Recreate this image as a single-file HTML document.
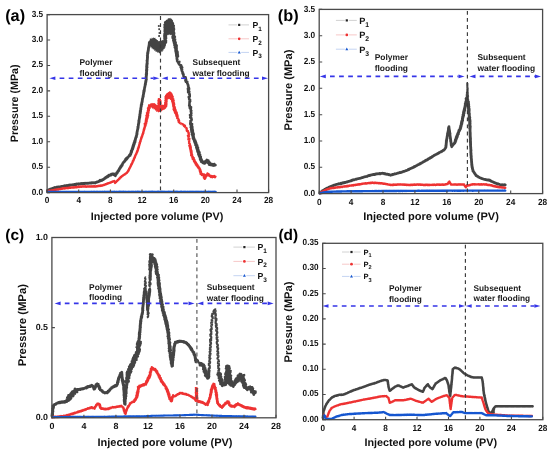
<!DOCTYPE html>
<html><head><meta charset="utf-8"><title>Pressure vs injected pore volume</title>
<style>html,body{margin:0;padding:0;background:#fff;}svg{display:block;}text{font-family:"Liberation Sans", Arial, sans-serif;font-weight:bold;text-rendering:geometricPrecision;}</style>
</head><body>
<svg width="550" height="451" viewBox="0 0 550 451">
<rect width="550" height="451" fill="#fff"/>
<g fill="none" stroke-linejoin="round" stroke-linecap="round">
<polyline points="47.4,190.7 47.8,190.0 48.6,190.4 48.9,189.6 49.7,189.8 50.0,189.1 50.8,189.3 51.2,188.7 51.9,188.9 52.3,188.2 53.0,188.4 53.5,187.8 54.1,187.9 54.7,187.4 55.4,187.9 55.9,187.3 56.6,187.7 57.1,186.9 57.8,187.4 58.3,186.8 59.0,187.1 59.5,186.7 60.2,187.0 60.7,186.5 61.4,186.7 62.0,186.2 62.6,186.4 63.2,186.0 63.8,186.3 64.4,185.7 65.1,186.2 65.6,185.6 66.3,186.0 66.8,185.4 67.5,185.8 68.0,185.3 68.7,185.7 69.2,184.9 69.9,185.5 70.4,184.8 71.1,185.2 71.7,184.7 72.3,185.0 72.9,184.6 73.6,184.9 74.1,184.3 74.8,184.8 75.3,184.2 76.0,184.7 76.5,183.9 77.2,184.3 77.7,183.9 78.4,184.3 78.9,183.7 79.6,184.2 80.2,183.5 80.8,183.8 81.4,183.3 82.0,183.9 82.6,183.3 83.2,183.6 83.8,183.2 84.5,183.7 85.0,183.1 85.7,183.5 86.2,183.1 86.9,183.4 87.5,183.1 88.1,183.5 88.7,183.0 89.3,183.3 89.9,182.8 90.5,183.2 91.1,182.7 91.7,183.1 92.3,182.6 92.9,183.0 93.5,182.6 94.1,182.9 94.7,182.5 95.3,183.0 95.8,182.3 96.5,182.5 96.9,181.8 97.7,182.0 98.1,181.5 98.8,181.7 99.2,180.9 99.9,181.1 100.2,180.2 101.0,180.7 101.4,180.0 102.2,180.4 102.5,179.5 103.4,179.7 103.6,179.0 104.4,178.9 104.6,178.1 105.5,178.2 105.7,177.3 106.6,177.5 106.8,176.6 107.8,176.9 107.9,175.9 108.7,176.1 109.0,175.1 109.8,175.5 110.2,174.8 111.1,175.2 111.3,174.1 112.2,174.5 112.5,173.8 112.9,174.1 114.0,173.9 113.9,174.9 114.9,174.8 115.4,175.9 115.1,174.9 116.0,174.8 116.0,173.9 116.7,173.7 116.5,172.7 117.5,172.7 117.4,171.8 118.2,171.6 118.0,170.7 119.0,170.6 118.8,169.7 119.5,169.4 119.3,168.6 120.1,168.4 120.1,167.6 120.9,167.4 120.5,166.4 121.6,166.3 121.4,165.4 122.3,165.3 122.0,164.4 122.7,164.1 122.7,163.3 123.4,163.1 123.4,162.3 124.2,162.0 124.2,161.2 125.1,161.1 125.0,160.3 125.8,160.1 125.6,159.1 126.8,159.2 126.5,158.1 127.5,158.2 127.5,157.2 128.3,157.1 128.5,156.4 129.2,156.2 129.2,155.2 130.3,155.4 130.0,154.4 130.9,154.1 130.5,153.3 131.4,152.9 130.9,152.1 131.8,151.7 131.2,150.8 132.1,150.5 131.8,149.7 132.7,149.3 132.1,148.5 133.1,148.1 132.5,147.3 133.5,146.9 132.9,146.1 133.8,145.7 133.3,144.9 134.3,144.5 133.7,143.7 134.6,143.3 134.0,142.5 135.1,142.1 134.5,141.2 135.4,140.8 135.0,140.1 135.6,139.6 135.3,138.8 135.9,138.3 135.6,137.6 136.4,137.2 136.0,136.3 136.7,135.9 136.4,135.2 137.1,134.6 136.6,134.0 137.2,133.4 136.8,132.7 137.3,132.2 137.0,131.6 137.5,131.0 137.2,130.4 137.8,129.8 137.5,129.2 138.1,128.6 137.7,128.0 138.3,127.4 137.8,126.7 138.4,126.2 138.2,125.6 138.6,125.0 138.2,124.4 138.8,123.8 138.5,123.2 139.1,122.6 138.6,121.9 139.2,121.4 138.7,120.7 139.3,120.2 139.0,119.5 139.5,119.0 139.2,118.3 139.8,117.8 139.3,117.1 140.0,116.6 139.6,115.9 140.1,115.3 139.7,114.7 140.2,114.1 139.9,113.4 140.5,112.9 140.0,112.2 140.7,111.7 140.1,111.0 140.7,110.5 140.5,109.8 141.0,109.3 140.6,108.6 141.1,108.0 140.8,107.4 141.4,106.8 141.0,106.2 141.5,105.6 141.1,105.0 141.9,104.5 141.4,103.8 141.9,103.3 141.7,102.6 142.3,102.1 142.0,101.4 142.5,100.9 142.1,100.2 142.6,99.7 142.2,99.0 142.8,98.5 142.6,97.9 143.1,97.3 142.8,96.7 143.4,96.2 143.0,95.5 143.5,95.0 143.3,94.3 143.8,93.8 143.4,93.1 144.0,92.6 143.6,91.9 144.3,91.4 143.7,90.7 144.5,90.2 144.1,89.6 144.6,89.0 144.4,88.4 144.7,87.8 144.5,87.2 145.1,86.7 144.8,86.0 145.3,85.4 145.0,84.8 145.6,84.3 145.2,83.6 145.8,83.0 145.4,82.3 146.0,81.8 145.6,81.1 146.3,80.7 146.0,80.0 146.5,79.4 145.9,78.8 146.4,78.2 146.0,77.6 146.5,77.0 146.0,76.4 146.6,75.8 146.1,75.1 146.7,74.6 146.1,73.9 146.8,73.4 146.3,72.7 146.8,72.2 146.4,71.5 146.9,70.9 146.3,70.3 147.0,69.7 146.4,69.1 146.9,68.5 146.5,67.9 147.2,67.3 146.5,66.7 147.1,66.1 146.6,65.5 147.2,64.9 146.7,64.3 147.4,63.7 146.9,63.1 147.3,62.5 146.9,61.8 147.4,61.3 146.9,60.6 147.5,60.1 147.2,59.4 147.6,58.9 147.2,58.2 147.7,57.6 147.3,57.0 147.7,56.4 147.2,55.8 147.7,55.2 147.4,54.6 147.8,54.0 147.4,53.4 148.1,52.9 147.6,52.2 148.3,51.7 147.9,51.0 148.5,50.5 148.2,49.8 148.6,49.2 148.3,48.6 148.8,48.0 148.4,47.4 149.1,46.8 148.7,46.2 149.3,45.7 148.9,45.0 149.4,44.4 149.1,43.8 149.7,43.3 149.2,42.5 149.5,42.1 150.8,41.6 149.8,43.7 151.6,42.6 151.0,44.3 152.3,43.5 152.0,45.0 153.5,44.0 153.0,45.7 154.2,45.0 153.8,46.6 155.4,45.3 155.3,47.0 156.7,45.7 156.4,47.7 157.8,46.5 158.0,48.5 158.7,47.0 159.3,48.3 159.6,46.9 161.1,48.1 160.4,45.9 161.8,47.0 161.6,45.5 162.8,46.3 162.4,45.1 164.2,45.6 162.8,43.8 164.7,44.5 163.9,43.1 165.4,43.0 163.9,42.3 166.0,41.9 164.4,41.1 166.0,40.6 164.6,39.9 165.6,39.4 164.5,38.6 166.1,38.1 164.5,37.4 166.0,36.9 164.4,36.2 165.9,35.7 164.4,35.0 165.9,34.4 164.6,33.7 166.0,33.1 164.9,32.5 166.3,31.9 164.7,31.2 166.2,30.6 164.7,30.0 166.3,29.4 164.9,28.7 166.0,28.1 164.6,27.5 166.4,26.9 164.7,26.2 166.6,25.6 164.6,24.8 166.7,24.7 165.3,23.7 167.0,23.5 165.2,22.4 167.4,22.4 166.9,21.0 166.6,22.4 168.2,21.5 168.5,23.1 167.3,21.7 169.6,22.3 168.5,20.9 169.8,20.9 168.7,19.6 169.4,19.8 170.7,19.8 169.8,21.2 171.7,20.8 170.4,22.1 172.1,22.2 171.1,23.2 172.9,23.3 171.7,24.3 172.9,24.6 171.6,25.7 173.8,25.9 171.6,26.7 173.3,27.1 172.1,27.9 173.9,28.3 172.2,29.1 174.0,29.5 172.6,30.3 173.7,30.8 172.7,31.5 173.7,32.0 172.5,32.7 174.2,33.2 172.6,33.9 174.0,34.4 173.0,35.2 174.2,35.7 172.6,36.4 174.9,36.9 172.6,37.7 174.3,38.2 173.4,38.9 175.1,39.4 173.2,40.1 174.9,40.3 173.6,41.6 175.2,41.6 174.0,42.8 175.7,42.8 174.3,43.8 175.7,44.2 174.4,45.1 176.6,45.3" stroke="#444444" stroke-width="2.6"/>
<polyline points="176.6,45.3 175.0,46.2" stroke="#444444" stroke-width="2.6" stroke-linecap="butt" stroke-dasharray="2.2 1.0"/>
<polyline points="175.0,46.2 176.5,46.6 174.8,47.5 176.6,47.8" stroke="#444444" stroke-width="2.6"/>
<polyline points="176.6,47.8 175.6,48.6" stroke="#444444" stroke-width="2.6" stroke-linecap="butt" stroke-dasharray="2.2 1.0"/>
<polyline points="175.6,48.6 176.5,49.0" stroke="#444444" stroke-width="2.6"/>
<polyline points="176.5,49.0 175.6,49.8" stroke="#444444" stroke-width="2.6" stroke-linecap="butt" stroke-dasharray="2.2 1.0"/>
<polyline points="175.6,49.8 176.6,50.2" stroke="#444444" stroke-width="2.6"/>
<polyline points="176.6,50.2 175.6,51.0" stroke="#444444" stroke-width="2.6" stroke-linecap="butt" stroke-dasharray="2.2 1.0"/>
<polyline points="175.6,51.0 177.3,51.4" stroke="#444444" stroke-width="2.6"/>
<polyline points="177.3,51.4 175.9,52.2" stroke="#444444" stroke-width="2.6" stroke-linecap="butt" stroke-dasharray="2.2 1.0"/>
<polyline points="175.9,52.2 177.5,52.6" stroke="#444444" stroke-width="2.6"/>
<polyline points="177.5,52.6 176.1,53.4" stroke="#444444" stroke-width="2.6" stroke-linecap="butt" stroke-dasharray="2.2 1.0"/>
<polyline points="176.1,53.4 177.4,53.8" stroke="#444444" stroke-width="2.6"/>
<polyline points="177.4,53.8 176.3,54.6" stroke="#444444" stroke-width="2.6" stroke-linecap="butt" stroke-dasharray="2.2 1.0"/>
<polyline points="176.3,54.6 177.7,55.0" stroke="#444444" stroke-width="2.6"/>
<polyline points="177.7,55.0 176.3,55.8" stroke="#444444" stroke-width="2.6" stroke-linecap="butt" stroke-dasharray="2.2 1.0"/>
<polyline points="176.3,55.8 178.0,56.2" stroke="#444444" stroke-width="2.6"/>
<polyline points="178.0,56.2 176.8,57.0 178.2,57.4 176.7,58.2 178.3,58.6 176.9,59.4 178.3,59.8 177.1,60.9 178.8,60.6 177.8,62.0 179.4,61.8 178.4,63.1 179.8,63.0 179.0,64.2 180.3,64.2 179.8,65.2 181.1,65.2 180.6,66.1 181.6,66.4 180.7,67.4 182.2,67.6 181.3,68.5 182.8,68.7 181.5,69.8 182.9,70.0 181.9,71.0 183.4,71.2 182.4,72.2 183.7,72.4 182.6,73.5 184.3,73.6 183.2,74.6 184.8,74.7 183.4,75.9 184.8,76.1 184.0,77.0 185.6,77.2 184.7,78.2 185.8,78.4 185.2,79.3 186.1,79.6 185.4,80.5 186.4,80.8 185.8,81.6 187.3,81.8 186.0,82.8 187.4,83.0 186.2,84.0 187.8,84.1 186.6,85.2 188.3,85.2 187.1,86.3 188.4,86.6 187.4,87.3 188.9,87.7 187.9,88.5 189.2,88.9 188.0,89.7 189.1,90.2 188.2,90.9 189.3,91.4 188.1,92.2 189.2,92.6 188.0,93.4 189.5,93.8 188.4,94.6 189.8,95.0 188.7,95.8 189.8,96.3 188.7,97.0 190.1,97.5 189.1,98.2 190.4,98.7 189.2,99.5 190.1,100.0 189.4,100.6 190.2,101.2 189.5,101.8 190.7,102.4 189.4,103.0 190.9,103.5 189.3,104.2 190.4,104.8 189.2,105.5 191.0,105.9 189.8,106.6 191.1,107.1 189.7,107.8 190.9,108.4 189.5,109.1 190.8,109.6 189.8,110.2 191.3,110.7 189.8,111.4 191.1,112.0 189.7,112.7 191.4,113.2 190.0,113.8 191.1,114.4 190.0,115.1 191.3,115.6 190.3,116.2 191.2,116.8 190.2,117.5 191.3,118.0 190.4,118.7 191.7,119.2 190.4,119.9 191.5,120.4 190.4,121.1 191.7,121.6 190.4,122.3 191.8,122.8 190.3,123.5 192.1,124.0" stroke="#444444" stroke-width="2.6" stroke-linecap="butt" stroke-dasharray="2.2 1.0"/>
<polyline points="192.1,124.0 190.5,124.7" stroke="#444444" stroke-width="2.6"/>
<polyline points="190.5,124.7 191.8,125.3 191.0,125.9 192.2,126.4" stroke="#444444" stroke-width="2.6" stroke-linecap="butt" stroke-dasharray="2.2 1.0"/>
<polyline points="192.2,126.4 190.7,127.2" stroke="#444444" stroke-width="2.6"/>
<polyline points="190.7,127.2 192.3,127.6" stroke="#444444" stroke-width="2.6" stroke-linecap="butt" stroke-dasharray="2.2 1.0"/>
<polyline points="192.3,127.6 191.2,128.4" stroke="#444444" stroke-width="2.6"/>
<polyline points="191.2,128.4 192.3,128.8" stroke="#444444" stroke-width="2.6" stroke-linecap="butt" stroke-dasharray="2.2 1.0"/>
<polyline points="192.3,128.8 191.2,129.6" stroke="#444444" stroke-width="2.6"/>
<polyline points="191.2,129.6 192.7,130.0" stroke="#444444" stroke-width="2.6" stroke-linecap="butt" stroke-dasharray="2.2 1.0"/>
<polyline points="192.7,130.0 191.5,130.8" stroke="#444444" stroke-width="2.6"/>
<polyline points="191.5,130.8 192.9,131.1" stroke="#444444" stroke-width="2.6" stroke-linecap="butt" stroke-dasharray="2.2 1.0"/>
<polyline points="192.9,131.1 191.6,132.0" stroke="#444444" stroke-width="2.6"/>
<polyline points="191.6,132.0 192.9,132.4" stroke="#444444" stroke-width="2.6" stroke-linecap="butt" stroke-dasharray="2.2 1.0"/>
<polyline points="192.9,132.4 192.1,133.1 193.5,133.5 191.9,134.4" stroke="#444444" stroke-width="2.6"/>
<polyline points="191.9,134.4 193.7,134.7" stroke="#444444" stroke-width="2.6" stroke-linecap="butt" stroke-dasharray="2.2 1.0"/>
<polyline points="193.7,134.7 192.7,135.5 193.4,135.9 192.7,136.7 193.8,137.0 192.9,138.0 194.1,138.2 193.4,139.2 194.5,139.4 194.1,140.3 195.3,140.5 194.3,141.5 195.7,141.7 194.8,142.7 196.1,142.9 195.3,143.8 196.4,144.1 195.5,145.1 197.2,145.2 196.3,146.2 197.2,146.5 196.3,147.5 198.0,147.6 196.7,148.6 198.0,148.9 197.2,149.7 198.4,150.0 197.3,151.0 198.8,151.2 197.8,152.1 199.5,152.3 198.3,153.3 199.5,153.6 198.4,154.5 200.1,154.7 198.9,155.7 200.1,155.9 199.5,156.8 200.8,156.9 199.9,157.9 200.8,158.2 200.1,159.1 201.5,159.2 200.5,160.2 201.8,160.4 201.1,161.6 202.3,161.3 202.2,162.3 203.4,161.9 203.1,163.1 203.5,162.9 204.8,163.5 204.5,161.9 205.9,162.3 205.7,161.1 206.9,161.1 206.8,159.7 207.2,160.2 208.3,160.5 207.5,161.5 209.1,161.7 207.9,162.8 209.8,162.8 209.0,164.6 210.1,163.5 210.4,165.0 211.4,163.9 211.9,165.1 212.8,164.1 213.3,165.6 214.2,164.0 214.7,165.4 215.5,165.0" stroke="#444444" stroke-width="2.6"/>
<polygon points="149.5,39.3 150.1,38.2 151.3,38.9 151.9,37.4 152.9,38.4 153.6,37.2 154.1,37.9 155.4,37.8 155.5,38.9 156.6,39.0 156.7,40.1 157.8,39.9 158.0,41.5 158.9,40.8 159.9,41.3 160.4,40.2 161.3,40.8 162.3,40.0 163.3,40.6 164.2,39.7 165.1,39.7 166.3,40.5 165.3,41.3 166.3,42.1 165.1,42.9 166.3,43.8 165.0,44.6 165.9,45.4 165.1,46.2 165.8,47.2 164.8,47.6 164.8,48.7 163.4,48.9 163.8,50.3 162.6,50.5 162.6,51.8 161.0,51.5 161.1,52.8 160.3,52.8 159.2,53.5 158.5,52.2 157.3,52.8 157.1,51.6 155.6,52.0 155.6,50.5 154.2,50.8 154.2,49.3 152.9,49.6 152.8,48.4 151.6,48.5 151.6,47.2 150.4,47.4 150.6,46.4 149.5,45.7 150.3,44.8 149.2,44.0 150.3,43.1 149.0,42.4 150.1,41.5 149.2,40.7 150.1,39.8 149.4,39.0" fill="#444444" stroke="none"/>
<polygon points="165.5,24.2 165.0,23.0 166.2,22.6 165.3,21.3 166.6,20.8 167.0,19.6 166.6,20.8 167.5,21.3 167.9,22.5 168.0,20.8 169.2,20.3 168.6,19.0 169.8,18.6 170.2,17.4 170.3,18.8 171.8,19.4 171.2,20.6 172.3,21.1 171.9,22.3 173.1,23.0 172.3,23.9 173.1,24.7 172.4,25.7 173.3,26.5 172.7,27.4 173.7,28.2 172.6,29.2 173.8,30.0 172.7,30.9 173.8,31.8 173.0,32.9 174.0,33.8 173.6,34.4 172.2,35.3 171.4,34.6 170.6,35.3 169.8,34.3 168.9,35.2 168.1,34.5 167.3,35.4 166.5,34.6 164.5,34.8 165.3,34.0 164.7,33.1 165.3,32.3 164.7,31.5 165.3,30.6 164.4,29.8 165.6,29.0 164.6,28.2 165.5,27.3 164.5,26.5 165.5,25.7 164.4,24.8 165.0,24.0" fill="#444444" stroke="none"/>
<rect x="158.3" y="28.3" width="1.8" height="1.8" fill="#444444" stroke="none"/>
<rect x="158.6" y="32.1" width="1.8" height="1.8" fill="#444444" stroke="none"/>
<rect x="158.2" y="35.1" width="1.8" height="1.8" fill="#444444" stroke="none"/>
<rect x="157.9" y="25.1" width="1.8" height="1.8" fill="#444444" stroke="none"/>
<polyline points="47.3,191.4 47.9,191.0 48.5,191.1 49.1,190.6 49.8,190.9 50.3,190.6 51.0,190.7 51.6,190.3 52.2,190.6 52.8,190.1 53.5,190.4 54.0,189.9 54.7,190.1 55.2,189.6 55.9,189.9 56.4,189.4 57.1,189.7 57.7,189.3 58.3,189.5 58.9,189.0 59.6,189.2 60.1,188.8 60.8,189.1 61.3,188.5 62.0,188.9 62.6,188.3 63.2,188.6 63.8,188.2 64.4,188.5 65.0,188.0 65.6,188.3 66.2,187.9 66.9,188.2 67.4,187.8 68.1,188.2 68.6,187.7 69.3,187.9 69.9,187.5 70.5,187.9 71.1,187.5 71.7,187.7 72.3,187.3 72.9,187.5 73.5,187.1 74.1,187.5 74.7,187.1 75.3,187.4 75.9,186.9 76.6,187.3 77.1,186.9 77.8,187.1 78.3,186.7 79.0,187.0 79.6,186.6 80.2,186.9 80.8,186.5 81.4,186.8 82.0,186.4 82.6,186.7 83.2,186.3 83.8,186.7 84.4,186.4 85.0,186.7 85.6,186.3 86.2,186.8 86.8,186.4 87.4,186.7 88.0,186.4 88.7,186.7 89.3,186.4 89.9,186.7 90.5,186.3 91.1,186.6 91.7,186.3 92.3,186.6 92.9,186.3 93.5,186.6 94.1,186.2 94.7,186.6 95.3,186.3 95.9,186.6 96.5,186.2 97.2,186.4 97.8,185.9 98.5,186.2 99.1,185.7 99.8,186.0 100.4,185.5 101.1,185.8 101.7,185.3 102.4,185.6 102.9,185.1 103.7,185.2 104.2,184.6 104.9,184.8 105.4,184.2 106.2,184.3 106.7,183.7 107.4,183.8 107.9,183.2 108.6,183.3 109.2,182.8 109.9,182.9 110.4,182.4 111.1,182.4 111.6,181.8 112.3,181.9 112.8,181.4 113.5,181.4 114.3,181.0 114.3,181.8 114.8,182.3 115.1,183.0 115.4,182.4 116.1,182.2 116.3,181.5 116.9,181.2 117.2,180.6 117.9,180.3 118.1,179.7 118.8,179.4 119.0,178.7 119.7,178.6 119.9,177.8 120.6,177.6 120.8,176.9 121.5,176.8 121.9,176.2 122.5,176.0 122.9,175.4 123.6,175.2 124.0,174.6 124.8,174.5 125.1,173.9 125.8,173.7 126.2,173.2 126.9,173.0 127.1,172.2 127.8,171.8 128.0,171.0 128.7,170.6 128.6,169.9 129.1,169.4 129.1,168.8 129.7,168.4 129.7,167.7 130.2,167.3 130.3,166.6 130.8,166.2 130.8,165.5 131.3,165.1 131.2,164.3 131.9,164.0 131.9,163.3 132.4,162.9 132.4,162.2 132.9,161.8 132.8,161.1 133.5,160.7 133.5,160.0 133.9,159.5 133.8,158.9 134.4,158.4 134.3,157.7 134.9,157.3 134.8,156.6 135.3,156.2 135.2,155.5 135.8,155.1 135.8,154.4 136.3,154.0 136.3,153.3 136.8,152.9 136.7,152.2 137.3,151.8 137.1,151.0 137.8,150.7 137.7,150.0 138.1,149.4 137.9,148.7 138.5,148.3 138.3,147.6 138.9,147.1 138.7,146.4 139.1,145.9 139.1,145.2 139.5,144.7 139.4,144.0 139.9,143.5 139.6,142.8 140.2,142.3 140.1,141.6 140.6,141.2 140.4,140.5 140.9,140.0 140.8,139.3 141.3,138.8 141.1,138.2 141.7,137.7 141.5,137.0 142.2,136.6 142.0,135.9 142.4,135.4 142.4,134.8 142.9,134.3 142.7,133.6 143.3,133.2 143.1,132.5 143.6,131.9 143.4,131.2 143.9,130.7 143.7,130.0 144.3,129.5 144.0,128.8 144.6,128.3 144.4,127.6 144.9,127.1 144.8,126.4 145.5,125.9 144.8,125.1 145.7,124.7 144.7,123.8 146.2,123.5 145.5,122.7 146.4,122.3 145.7,121.5 146.7,121.1 145.8,120.3 146.8,119.9 146.0,119.1 147.2,118.8 146.3,118.0 147.7,117.6 146.5,116.8 147.8,116.4 146.4,115.5 148.2,115.3 147.0,114.4 148.0,114.0 146.9,113.1 148.5,112.8 147.6,112.0 148.5,111.5 147.8,110.8 148.9,110.4 148.1,109.6 149.0,109.1 147.9,108.2 149.7,108.0 148.7,107.1 149.8,106.7 149.0,105.3 150.1,106.4 150.3,105.3 151.2,105.9 151.4,104.7 152.0,105.8 153.0,104.5 153.4,105.8 154.3,104.7 154.6,105.7 155.9,105.7 154.9,107.1 156.5,107.0 155.8,108.2 156.7,108.0 157.2,109.0 158.0,108.5 158.9,109.0 158.0,108.3 159.4,107.8 158.2,107.1 159.3,106.6 158.1,105.8 159.5,105.3 158.6,104.6 159.8,104.1 158.4,103.3 159.6,102.8 158.7,102.1 159.9,101.6 158.4,100.8 159.8,100.3 158.8,99.6 158.8,99.1 159.9,99.6 159.0,100.3 160.4,100.8 159.0,101.6 160.5,102.1 159.3,102.8 160.6,103.3 159.1,104.1 160.4,104.6 159.3,105.3 160.7,105.8 159.4,106.6 160.8,107.1 159.7,107.8 160.9,108.3 160.5,109.5 160.6,108.0 161.7,109.0 161.7,107.4 163.0,108.6 163.1,107.3 164.1,107.9 164.2,106.8 165.3,107.5 165.2,106.6 166.2,106.1 165.1,105.3 166.4,104.8 165.3,104.1 166.5,103.6 165.1,102.9 166.4,102.4 165.6,101.7 166.6,101.2 165.4,100.4 166.6,99.9 165.9,99.2 166.8,98.7 165.5,98.0 166.8,97.5 165.6,96.7 167.1,96.3 166.1,95.6 166.6,95.4 167.3,94.5 168.4,95.4 168.2,94.2 169.2,94.3 169.0,93.1 169.5,93.3 170.7,93.2 170.1,94.3 171.5,94.1 170.7,95.4 172.0,95.4 171.3,96.2 172.7,96.6 171.7,97.5 172.6,98.0 172.0,98.8 173.3,99.2 172.1,100.1 173.7,100.5 172.3,101.4 173.5,101.8 172.6,102.6 174.0,103.0 172.9,103.9 174.3,104.3 173.1,105.1 174.1,105.6 173.3,106.4 174.6,106.8 173.7,107.6 175.0,108.0 173.5,109.1 175.1,109.1 174.0,110.2 175.7,110.2 174.6,111.3 175.8,111.4 174.9,112.5 176.7,112.4" stroke="#ee3232" stroke-width="2.3"/>
<polyline points="176.7,112.4 175.7,113.5" stroke="#ee3232" stroke-width="2.2" stroke-linecap="butt" stroke-dasharray="2.0 0.8"/>
<polyline points="175.7,113.5 176.8,113.7" stroke="#ee3232" stroke-width="2.3"/>
<polyline points="176.8,113.7 176.3,114.5" stroke="#ee3232" stroke-width="2.2" stroke-linecap="butt" stroke-dasharray="2.0 0.8"/>
<polyline points="176.3,114.5 177.3,114.8" stroke="#ee3232" stroke-width="2.3"/>
<polyline points="177.3,114.8 176.4,115.8" stroke="#ee3232" stroke-width="2.2" stroke-linecap="butt" stroke-dasharray="2.0 0.8"/>
<polyline points="176.4,115.8 177.6,116.1" stroke="#ee3232" stroke-width="2.3"/>
<polyline points="177.6,116.1 177.0,116.9 178.0,117.2 177.1,118.1 178.2,118.4 177.7,119.2 178.8,119.6 178.2,120.4 179.2,120.7 178.5,121.8 179.7,121.5 179.5,122.8 180.5,122.7 180.6,123.6 181.5,123.7 181.7,124.6 182.8,124.1 182.7,125.5 183.9,124.9 183.9,126.1 185.0,125.7 184.8,126.8 185.9,126.9 185.6,127.7 186.5,127.9 186.1,128.8 186.9,129.1 186.5,129.9 187.4,130.2 186.9,131.1 188.1,131.2 187.4,132.0 188.7,132.5 187.9,133.2 188.9,133.7 187.7,134.5 188.9,135.0 187.8,135.7 189.0,136.2 188.4,136.9 189.0,137.5 188.4,138.2 189.5,138.7 188.3,139.5 189.3,140.0 188.7,140.7 189.4,141.2 188.9,141.9 189.7,142.4 189.0,143.2 189.8,143.6 189.1,144.4 190.1,144.9" stroke="#ee3232" stroke-width="2.2" stroke-linecap="butt" stroke-dasharray="2.0 0.8"/>
<polyline points="190.1,144.9 189.3,145.6" stroke="#ee3232" stroke-width="2.3"/>
<polyline points="189.3,145.6 190.5,146.0" stroke="#ee3232" stroke-width="2.2" stroke-linecap="butt" stroke-dasharray="2.0 0.8"/>
<polyline points="190.5,146.0 189.7,146.8" stroke="#ee3232" stroke-width="2.3"/>
<polyline points="189.7,146.8 190.8,147.2" stroke="#ee3232" stroke-width="2.2" stroke-linecap="butt" stroke-dasharray="2.0 0.8"/>
<polyline points="190.8,147.2 190.0,148.0" stroke="#ee3232" stroke-width="2.3"/>
<polyline points="190.0,148.0 190.8,148.5" stroke="#ee3232" stroke-width="2.2" stroke-linecap="butt" stroke-dasharray="2.0 0.8"/>
<polyline points="190.8,148.5 190.3,149.2 191.1,149.7 190.5,150.4 191.5,150.9 190.7,151.6 191.7,152.1 190.9,152.8 191.7,153.3 191.2,154.1 192.1,154.5 191.1,155.3 192.2,155.6 191.9,156.5 192.8,156.8 192.4,157.7 193.7,157.8 192.7,159.0 193.9,159.1 193.7,159.9 194.6,160.2 194.0,161.2 195.0,161.4 194.7,162.3 195.9,162.4 195.4,163.3 196.4,163.5 195.8,164.6 197.1,164.4 196.6,165.5 197.7,165.5 197.3,166.5 198.3,166.5 198.1,167.5 199.1,167.4 198.9,168.4 199.7,168.5 199.6,169.2 200.3,169.6 199.7,170.4 200.6,170.8 199.9,171.6 201.0,171.9 200.4,172.7 201.1,173.2 200.5,173.9 201.1,173.8 201.8,175.0 202.5,174.0 203.2,175.0 204.2,174.5 203.6,175.2 204.6,175.7 203.7,176.4 204.5,176.9 203.8,177.6 204.9,178.1 204.7,178.9 204.5,178.1 205.4,177.9 204.8,176.8 206.0,176.8 205.6,175.8 206.8,175.8 206.3,174.8 207.2,174.5 207.5,173.4 207.4,174.7 208.7,174.1 208.6,175.3 209.6,175.1 209.7,176.1 210.6,176.0 211.0,177.0 211.6,176.0 212.3,177.3 212.9,176.2 213.6,176.9 214.2,176.0 214.9,177.3 215.5,176.6" stroke="#ee3232" stroke-width="2.3"/>
<polygon points="149.6,104.2 150.2,103.4 151.3,103.8 152.0,102.7 152.9,103.7 154.1,103.0 154.8,103.6 155.8,103.9 155.8,104.9 156.7,105.2 157.2,106.2 157.4,105.1 158.5,104.9 159.2,103.5 159.9,104.8 160.9,104.5 161.9,105.2 162.6,104.4 163.6,104.9 164.4,103.8 165.1,104.0 166.0,104.8 165.2,105.7 165.8,106.5 165.2,107.3 165.9,108.2 165.3,108.5 164.8,109.7 163.6,109.2 163.2,110.2 162.2,110.3 162.0,111.4 160.8,111.1 160.5,112.5 159.5,111.7 158.4,112.4 157.6,111.5 156.2,112.0 156.3,110.6 155.0,110.6 155.0,109.3 153.7,109.5 153.4,108.3 152.2,108.8 151.9,107.6 150.5,107.7 150.9,106.5 149.8,105.9 150.4,104.7 149.5,104.0" fill="#ee3232" stroke="none"/>
<polygon points="166.5,93.7 167.3,92.7 168.7,92.6 169.0,91.5 169.5,91.3 170.8,91.4 170.5,92.6 171.8,92.9 171.2,93.9 172.3,94.4 171.6,95.5 172.5,96.1 172.1,97.0 172.9,97.9 172.1,98.7 172.8,99.6 172.0,100.4 172.8,101.3 172.2,102.1 172.2,103.2 172.3,102.0 171.3,101.5 171.4,100.3 170.1,100.0 170.0,98.8 169.0,99.4 168.0,98.8 167.0,99.5 166.6,99.0 165.8,98.1 166.8,97.2 165.8,96.2 166.8,95.4 166.0,94.4 166.4,93.5" fill="#ee3232" stroke="none"/>
<polyline points="47.3,192.0 47.9,191.8 48.5,192.0 49.1,191.8 49.7,192.0 50.3,191.8 50.9,192.0 51.5,191.8 52.1,192.0 52.8,191.8 53.4,192.0 54.0,191.8 54.6,192.0 55.2,191.8 55.8,192.0 56.4,191.8 57.0,191.9 57.6,191.8 58.2,191.9 58.8,191.8 59.4,192.0 60.0,191.8 60.6,191.9 61.2,191.8 61.8,192.0 62.4,191.8 63.0,191.9 63.7,191.8 64.3,191.9 64.9,191.8 65.5,191.9 66.1,191.8 66.7,192.0 67.3,191.8 67.9,191.9 68.5,191.8 69.1,191.9 69.7,191.8 70.3,191.9 70.9,191.8 71.5,191.9 72.1,191.8 72.7,191.9 73.3,191.8 74.0,191.9 74.6,191.8 75.2,191.9 75.8,191.8 76.4,191.9 77.0,191.8 77.6,191.9 78.2,191.8 78.8,191.9 79.4,191.8 80.0,191.9 80.6,191.8 81.2,191.9 81.8,191.8 82.4,191.9 83.0,191.8 83.6,191.9 84.3,191.7 84.9,191.9 85.5,191.8 86.1,191.9 86.7,191.8 87.3,191.9 87.9,191.8 88.5,191.9 89.1,191.8 89.7,191.9 90.3,191.8 90.9,191.9 91.5,191.7 92.1,191.9 92.7,191.8 93.3,191.9 93.9,191.7 94.5,191.8 95.2,191.8 95.8,191.9 96.4,191.7 97.0,191.9 97.6,191.7 98.2,191.9 98.8,191.8 99.4,191.9 100.0,191.7 100.6,191.9 101.2,191.8 101.8,191.9 102.4,191.7 103.0,191.9 103.6,191.8 104.2,191.8 104.8,191.7 105.4,191.9 106.0,191.7 106.6,191.9 107.2,191.7 107.8,191.9 108.4,191.7 109.0,191.9 109.6,191.7 110.2,191.9 110.8,191.7 111.4,191.9 112.0,191.7 112.6,191.9 113.2,191.7 113.8,191.9 114.4,191.7 115.0,191.8 115.6,191.8 116.2,191.9 116.8,191.7 117.4,191.9 118.0,191.8 118.6,191.8 119.2,191.7 119.8,191.8 120.4,191.7 121.0,191.9 121.6,191.7 122.2,191.9 122.8,191.7 123.4,191.8 124.0,191.7 124.6,191.9 125.2,191.7 125.8,191.9 126.4,191.8 127.0,191.8 127.6,191.8 128.2,191.9 128.8,191.7 129.4,191.8 130.0,191.8 130.6,191.9 131.2,191.7 131.8,191.9 132.4,191.7 133.0,191.9 133.6,191.7 134.2,191.9 134.8,191.8 135.4,191.8 136.0,191.7 136.6,191.9 137.2,191.7 137.8,191.8 138.4,191.7 139.0,191.9 139.6,191.7 140.2,191.9 140.8,191.8 141.4,191.8 142.0,191.8 142.6,191.8 143.2,191.8 143.8,191.9 144.4,191.8 145.0,191.9 145.6,191.7 146.2,191.9 146.8,191.7 147.4,191.9 148.0,191.8 148.6,191.8 149.2,191.7 149.8,191.9 150.4,191.7 151.0,191.9 151.6,191.7 152.2,191.8 152.8,191.7 153.4,191.9 154.0,191.7 154.6,191.9 155.2,191.8 155.8,191.8 156.4,191.8 157.0,191.9 157.6,191.7 158.2,191.8 158.8,191.7 159.4,191.9 160.0,191.7 160.6,191.9 161.2,191.7 161.8,191.8 162.4,191.7 163.0,191.9 163.6,191.7 164.2,191.9 164.8,191.7 165.4,191.9 166.1,191.8 166.7,191.9 167.3,191.8 167.9,191.8 168.5,191.7 169.1,191.9 169.7,191.7 170.3,191.9 170.9,191.7 171.5,191.9 172.1,191.7 172.7,191.9 173.3,191.7 173.9,191.9 174.5,191.7 175.1,191.9 175.7,191.7 176.3,191.8 177.0,191.7 177.6,191.8 178.2,191.8 178.8,191.8 179.4,191.8 180.0,191.9 180.6,191.7 181.2,191.8 181.8,191.7 182.4,191.9 183.0,191.8 183.6,191.8 184.2,191.7 184.8,191.9 185.4,191.7 186.0,191.9 186.6,191.8 187.2,191.9 187.8,191.7 188.5,191.9 189.1,191.7 189.7,191.9 190.3,191.7 190.9,191.9 191.5,191.7 192.1,191.9 192.7,191.7 193.3,191.9 193.9,191.7 194.5,191.9 195.1,191.7 195.7,191.9 196.3,191.7 196.9,191.9 197.5,191.7 198.1,191.9 198.7,191.7 199.4,191.9 200.0,191.7 200.6,191.9 201.2,191.7 201.8,191.9 202.4,191.8 203.0,191.9 203.6,191.7 204.2,191.9 204.8,191.7 205.4,191.9 206.0,191.7 206.6,191.9 207.2,191.8 207.8,191.8 208.4,191.7 209.0,191.9 209.6,191.7 210.3,191.9 210.9,191.7 211.5,191.9 212.1,191.7 212.7,191.9 213.3,191.7 213.9,191.9 214.5,191.7 215.1,191.8 215.7,191.8" stroke="#1556d0" stroke-width="2.2"/>
</g>
<line x1="160.5" y1="16.1" x2="160.5" y2="192.6" stroke="#3a3a3a" stroke-width="1.15" stroke-dasharray="3.8 3.3"/>
<g stroke="#3535e8" stroke-width="1.6" stroke-dasharray="4.7 4.4">
<line x1="59.6" y1="78.3" x2="153.3" y2="78.3"/>
<line x1="172.0" y1="78.3" x2="262.0" y2="78.3"/>
</g>
<polygon points="49.4,78.3 55.4,76.5 55.4,80.1" fill="#3535e8"/>
<polygon points="159.3,78.3 153.3,76.5 153.3,80.1" fill="#3535e8"/>
<polygon points="161.8,78.3 167.8,76.5 167.8,80.1" fill="#3535e8"/>
<polygon points="268.0,78.3 262.0,76.5 262.0,80.1" fill="#3535e8"/>
<rect x="47.1" y="14.6" width="221.5" height="178.0" fill="none" stroke="#4a4a4a" stroke-width="1.3"/>
<path d="M47.1,192.6v-3M78.7,192.6v-3M110.4,192.6v-3M142.0,192.6v-3M173.7,192.6v-3M205.3,192.6v-3M237.0,192.6v-3M268.6,192.6v-3M47.1,192.6h3M47.1,167.2h3M47.1,141.7h3M47.1,116.3h3M47.1,90.9h3M47.1,65.5h3M47.1,40.0h3M47.1,14.6h3" stroke="#4a4a4a" stroke-width="1.1" fill="none"/>
<g fill="#111"><text transform="translate(47.10,202.90) scale(0.930,1)" font-size="8.90" text-anchor="middle">0</text><text transform="translate(78.74,202.90) scale(0.930,1)" font-size="8.90" text-anchor="middle">4</text><text transform="translate(110.39,202.90) scale(0.930,1)" font-size="8.90" text-anchor="middle">8</text><text transform="translate(142.03,202.90) scale(0.930,1)" font-size="8.90" text-anchor="middle">12</text><text transform="translate(173.67,202.90) scale(0.930,1)" font-size="8.90" text-anchor="middle">16</text><text transform="translate(205.31,202.90) scale(0.930,1)" font-size="8.90" text-anchor="middle">20</text><text transform="translate(236.96,202.90) scale(0.930,1)" font-size="8.90" text-anchor="middle">24</text><text transform="translate(268.60,202.90) scale(0.930,1)" font-size="8.90" text-anchor="middle">28</text><text transform="translate(43.20,194.59) scale(0.930,1)" font-size="8.90" text-anchor="end">0.0</text><text transform="translate(43.20,169.16) scale(0.930,1)" font-size="8.90" text-anchor="end">0.5</text><text transform="translate(43.20,143.73) scale(0.930,1)" font-size="8.90" text-anchor="end">1.0</text><text transform="translate(43.20,118.30) scale(0.930,1)" font-size="8.90" text-anchor="end">1.5</text><text transform="translate(43.20,92.87) scale(0.930,1)" font-size="8.90" text-anchor="end">2.0</text><text transform="translate(43.20,67.44) scale(0.930,1)" font-size="8.90" text-anchor="end">2.5</text><text transform="translate(43.20,42.01) scale(0.930,1)" font-size="8.90" text-anchor="end">3.0</text><text transform="translate(43.20,16.59) scale(0.930,1)" font-size="8.90" text-anchor="end">3.5</text></g>
<text x="157.0" y="219.6" font-size="10.80" text-anchor="middle" fill="#111">Injected pore volume (PV)</text>
<text transform="translate(17.8,103.3) rotate(-90)" font-size="10.70" text-anchor="middle" fill="#111">Pressure (MPa)</text>
<text x="5.2" y="21.0" font-size="16.30" text-anchor="start" fill="#000">(a)</text>
<text x="79.5" y="65.3" font-size="8.35" text-anchor="start" fill="#1a1a1a">Polymer</text>
<text x="79.5" y="75.6" font-size="8.35" text-anchor="start" fill="#1a1a1a">flooding</text>
<text x="192.6" y="65.2" font-size="8.35" text-anchor="start" fill="#1a1a1a">Subsequent</text>
<text x="192.6" y="75.5" font-size="8.35" text-anchor="start" fill="#1a1a1a">water flooding</text>
<path d="M228.5,24.9H237.2M241.2,24.9H249.0" stroke="#d2d2d2" stroke-width="1"/>
<rect x="238.1" y="23.8" width="2.2" height="2.2" fill="#222"/>
<text x="252.4" y="28.0" font-size="8.60" fill="#111">P<tspan font-size="6.36" dy="2.84">1</tspan></text>
<path d="M228.5,38.8H237.2M241.2,38.8H249.0" stroke="#f7c8c8" stroke-width="1"/>
<circle cx="239.2" cy="38.8" r="1.4" fill="#ee3232"/>
<text x="252.4" y="41.9" font-size="8.60" fill="#111">P<tspan font-size="6.36" dy="2.84">2</tspan></text>
<path d="M228.5,52.4H237.2M241.2,52.4H249.0" stroke="#c4d4f2" stroke-width="1"/>
<polygon points="239.2,50.8 237.7,53.5 240.7,53.5" fill="#1556d0"/>
<text x="252.4" y="55.5" font-size="8.60" fill="#111">P<tspan font-size="6.36" dy="2.84">3</tspan></text>
<g fill="none" stroke-linejoin="round" stroke-linecap="round">
<polyline points="319.9,192.8 320.3,192.2 321.0,192.2 321.4,191.5 322.1,191.4 322.4,190.7 323.2,190.6 323.6,190.0 324.3,190.0 324.6,189.3 325.3,189.2 325.8,188.7 326.4,188.7 326.8,188.1 327.5,188.2 328.0,187.7 328.7,187.7 329.0,187.0 329.7,187.1 330.1,186.5 330.7,186.5 331.3,186.1 332.0,186.1 332.5,185.7 333.2,185.7 333.7,185.2 334.4,185.2 334.9,184.8 335.6,184.9 336.1,184.3 336.8,184.5 337.4,184.0 338.1,184.2 338.6,183.7 339.3,184.0 339.8,183.5 340.5,183.8 341.0,183.1 341.7,183.5 342.2,182.9 342.9,183.1 343.5,182.7 344.1,182.8 344.7,182.4 345.4,182.6 345.9,182.1 346.6,182.2 347.1,181.7 347.8,181.9 348.3,181.3 349.0,181.4 349.5,181.0 350.2,181.1 350.7,180.6 351.4,180.8 351.9,180.2 352.6,180.3 353.1,179.8 353.9,180.0 354.4,179.5 355.0,179.5 355.6,179.2 356.3,179.4 356.8,178.8 357.5,178.9 358.0,178.6 358.7,178.6 359.2,178.3 359.9,178.4 360.4,178.0 361.1,178.1 361.6,177.6 362.3,177.7 362.8,177.3 363.5,177.4 364.0,176.9 364.7,177.0 365.3,176.6 365.9,176.7 366.5,176.3 367.2,176.4 367.6,175.8 368.3,176.0 368.8,175.4 369.5,175.6 370.1,175.1 370.7,175.3 371.3,174.8 371.9,175.0 372.5,174.5 373.2,174.7 373.7,174.4 374.4,174.6 375.0,174.1 375.6,174.3 376.2,173.9 376.8,174.0 377.4,173.7 378.1,173.9 378.7,173.5 379.4,173.8 380.0,173.4 380.6,173.8 381.2,173.3 381.9,173.5 382.5,173.1 383.1,173.5 383.8,173.4 384.4,173.9 385.2,173.6 385.8,174.1 386.5,174.0 387.0,174.4 387.8,174.1 388.3,174.6 389.0,174.4 389.4,175.0 390.1,174.8 390.7,175.3 391.3,174.8 391.9,174.9 392.5,174.4 393.2,174.6 393.7,174.1 394.4,174.2 394.9,173.7 395.6,173.9 396.2,173.5 396.8,173.6 397.3,173.1 398.0,173.2 398.6,172.9 399.2,173.0 399.7,172.4 400.4,172.7 401.0,172.2 401.7,172.4 402.2,171.9 402.9,171.8 403.4,171.4 404.1,171.5 404.6,171.0 405.3,171.0 405.8,170.5 406.6,170.6 407.1,170.1 407.8,170.1 408.2,169.4 409.0,169.6 409.4,168.9 410.1,169.0 410.6,168.4 411.3,168.4 411.8,167.9 412.5,167.8 412.9,167.3 413.7,167.4 414.0,166.7 414.8,166.7 415.2,166.1 415.9,166.1 416.3,165.5 417.0,165.5 417.4,164.9 418.1,164.9 418.6,164.3 419.3,164.4 419.7,163.7 420.4,163.8 420.8,163.1 421.5,163.2 421.8,162.5 422.5,162.5 422.9,161.9 423.6,162.0 423.9,161.3 424.6,161.3 425.0,160.7 425.7,160.8 426.0,160.1 426.7,160.2 427.1,159.6 427.8,159.6 428.1,158.9 428.8,158.9 429.1,158.3 429.9,158.4 430.2,157.6 430.9,157.7 431.3,157.1 432.0,157.1 432.3,156.4 433.0,156.4 433.3,155.8 434.0,155.7 434.3,155.1 435.0,155.1 435.4,154.5 436.2,154.5 436.6,154.0 437.3,153.9 437.7,153.3 438.5,153.3 438.9,152.6 439.6,152.6 440.1,152.1 440.8,152.0 441.2,151.4 441.9,151.4 442.3,150.8 443.0,150.8 443.3,150.1 444.1,150.1 444.3,149.5 444.9,149.1 445.0,148.4 445.6,148.1 445.6,147.5 446.1,146.9 445.7,146.2 446.2,145.6 445.9,145.0 446.3,144.4 446.1,143.7 446.4,143.1 446.2,142.5 446.6,141.9 446.2,141.2 446.7,140.6 446.4,140.0 446.8,139.4 446.7,138.8 447.1,138.2 446.9,137.5 447.2,137.0 447.1,136.3 447.5,135.7 447.3,135.1 447.7,134.5 447.4,133.8 448.0,133.3 447.7,132.6 448.1,132.0 448.0,131.4 448.4,130.8 448.2,130.2 448.6,129.6 448.3,128.9 448.7,128.4 448.5,127.7 448.9,127.1 449.0,126.5 448.8,127.1 449.1,127.7 448.9,128.3 449.3,128.9 449.2,129.5 449.5,130.1 449.3,130.7 449.7,131.2 449.4,131.9 449.9,132.4 449.5,133.1 450.1,133.6 449.7,134.3 450.1,134.8 449.9,135.5 450.2,136.0 450.1,136.6 450.4,137.2 450.2,137.9 450.6,138.4 450.4,139.0 450.7,139.6 450.5,140.2 450.9,140.8 450.6,141.4 451.1,142.0 450.9,142.7 451.3,143.3 451.0,144.0 451.4,144.7 451.2,145.4 451.7,146.0 451.7,146.8 451.9,146.1 452.5,145.8 452.6,145.1 453.3,144.8 453.4,144.2 454.1,143.9 454.1,143.2 454.9,142.9 454.8,142.2 455.5,141.8 455.1,141.0 455.9,140.7 455.3,139.8 456.3,139.5 455.8,138.7 456.6,138.4 456.1,137.5 457.2,137.3 456.5,136.4 457.5,136.1 457.0,135.3 457.9,135.0 457.4,134.1 458.5,133.9 458.0,133.0 458.7,132.6 458.5,131.8 459.3,131.4 458.8,130.5 459.8,130.2 459.5,129.4 460.4,129.1 460.0,128.2 460.8,127.9 460.4,127.0 461.2,126.6 460.6,125.8 461.4,125.3 461.1,124.6 461.8,124.1 461.2,123.3 462.1,122.8 461.4,122.0 462.4,121.6 461.8,120.8 462.7,120.4 462.2,119.6 462.7,119.1 462.3,118.3 463.0,117.8 462.5,117.1 463.4,116.6 462.8,115.9 463.7,115.4 463.0,114.6 463.8,114.2 463.4,113.4 464.2,113.0 463.4,112.2 464.3,111.7 463.7,111.0 464.8,110.5 464.1,109.8 464.9,109.3 464.4,108.6 465.1,108.1 464.6,107.3 465.4,106.8 465.0,106.1 465.8,105.6 465.1,104.9 465.8,104.4 465.2,103.6 466.1,103.1 465.6,102.4 466.4,101.9" stroke="#444444" stroke-width="2.7"/>
<polyline points="466.4,101.9 466.0,101.2" stroke="#444444" stroke-width="1.5" stroke-linecap="butt" stroke-dasharray="100.0 0.0"/>
<polyline points="466.0,101.2 466.6,100.7" stroke="#444444" stroke-width="2.7"/>
<polyline points="466.6,100.7 466.1,100.0" stroke="#444444" stroke-width="1.5" stroke-linecap="butt" stroke-dasharray="100.0 0.0"/>
<polyline points="466.1,100.0 466.9,99.4" stroke="#444444" stroke-width="2.7"/>
<polyline points="466.9,99.4 466.0,98.7" stroke="#444444" stroke-width="1.5" stroke-linecap="butt" stroke-dasharray="100.0 0.0"/>
<polyline points="466.0,98.7 466.8,98.1" stroke="#444444" stroke-width="2.7"/>
<polyline points="466.8,98.1 466.3,97.5 466.9,96.9 466.4,96.2 467.2,95.7 466.3,95.0 467.2,94.4 466.6,93.7 467.2,93.1 466.6,92.5 467.5,91.9 466.9,91.2 467.6,90.7 467.0,90.0 467.5,89.4 467.0,88.7 467.7,88.1 467.0,87.4 467.6,86.8 466.9,86.2 467.5,85.6 466.9,84.9 467.6,84.3 467.0,83.6 467.1,83.0 467.7,83.6 467.1,84.2 467.8,84.8 467.2,85.4 467.8,86.0 467.2,86.6 467.8,87.2 467.3,87.8 468.0,88.4 467.2,89.0 468.0,89.6 467.2,90.2 468.0,90.8 467.2,91.4 468.0,92.0 467.3,92.6 468.2,93.2 467.3,93.8 468.1,94.4 467.5,95.0 468.3,95.6 467.6,96.2 468.4,96.8 467.5,97.5 468.2,98.1 467.8,98.7 468.5,99.3 467.8,99.9 468.4,100.5 467.7,101.2 468.5,101.7" stroke="#444444" stroke-width="1.5" stroke-linecap="butt" stroke-dasharray="100.0 0.0"/>
<polyline points="468.5,101.7 467.8,102.4" stroke="#444444" stroke-width="2.7"/>
<polyline points="467.8,102.4 468.5,103.0" stroke="#444444" stroke-width="1.5" stroke-linecap="butt" stroke-dasharray="100.0 0.0"/>
<polyline points="468.5,103.0 468.0,103.6" stroke="#444444" stroke-width="2.7"/>
<polyline points="468.0,103.6 468.8,104.2" stroke="#444444" stroke-width="1.5" stroke-linecap="butt" stroke-dasharray="100.0 0.0"/>
<polyline points="468.8,104.2 468.3,104.8" stroke="#444444" stroke-width="2.7"/>
<polyline points="468.3,104.8 468.7,105.4" stroke="#444444" stroke-width="1.5" stroke-linecap="butt" stroke-dasharray="100.0 0.0"/>
<polyline points="468.7,105.4 468.1,106.0" stroke="#444444" stroke-width="2.7"/>
<polyline points="468.1,106.0 469.0,106.6" stroke="#444444" stroke-width="1.5" stroke-linecap="butt" stroke-dasharray="100.0 0.0"/>
<polyline points="469.0,106.6 468.1,107.2" stroke="#444444" stroke-width="2.7"/>
<polyline points="468.1,107.2 468.9,107.8" stroke="#444444" stroke-width="1.5" stroke-linecap="butt" stroke-dasharray="100.0 0.0"/>
<polyline points="468.9,107.8 468.4,108.4" stroke="#444444" stroke-width="2.7"/>
<polyline points="468.4,108.4 469.2,109.0" stroke="#444444" stroke-width="1.5" stroke-linecap="butt" stroke-dasharray="100.0 0.0"/>
<polyline points="469.2,109.0 468.5,109.6" stroke="#444444" stroke-width="2.7"/>
<polyline points="468.5,109.6 469.3,110.2" stroke="#444444" stroke-width="1.5" stroke-linecap="butt" stroke-dasharray="100.0 0.0"/>
<polyline points="469.3,110.2 468.7,110.8 469.2,111.4 468.8,112.0 469.2,112.6 468.7,113.3 469.5,113.8 468.8,114.5 469.5,115.1 469.1,115.8 469.6,116.4 469.0,117.0 469.9,117.6 469.0,118.3 469.8,118.9 469.4,119.5 470.1,120.1 469.4,120.8 470.2,121.3 469.5,122.0 470.1,122.6 469.5,123.2 470.2,123.8 469.5,124.5 470.1,125.1 469.5,125.7 470.4,126.3 469.7,127.0 470.3,127.6 469.6,128.2 470.2,128.8 469.9,129.4 470.2,130.0 469.9,130.7 470.2,131.3 469.9,131.9 470.3,132.5 469.9,133.1 470.4,133.8 470.0,134.4 470.4,135.0 470.0,135.6 470.4,136.2 470.0,136.8 470.5,137.4 470.2,138.0 470.6,138.6 470.2,139.2 470.6,139.8 470.2,140.4 470.6,141.0 470.2,141.6 470.7,142.2 470.3,142.8 470.7,143.4 470.4,144.0 470.7,144.6 470.4,145.2 470.7,145.8 470.5,146.4 470.8,147.0 470.6,147.6 470.9,148.2 470.6,148.8 471.0,149.4 470.7,150.0 471.1,150.6 470.7,151.2 471.0,151.8 470.7,152.4 471.1,153.0 470.8,153.7 471.2,154.2 470.8,154.9 471.3,155.5 471.0,156.1 471.4,156.7 471.0,157.4 471.4,158.0 471.2,158.6 471.6,159.2 471.3,159.8 471.6,160.4 471.4,161.1 471.7,161.7 471.5,162.3 471.8,162.9 471.6,163.6 472.0,164.2 471.6,164.8 472.1,165.4 471.8,166.1 472.3,166.6 472.0,167.3 472.6,167.9 472.3,168.6 472.7,169.1 472.6,169.8 473.1,170.3 472.9,171.1 473.6,171.4 473.7,172.2 474.3,172.6 474.5,173.3 475.1,173.7 475.2,174.4 475.8,174.8 476.0,175.6 476.7,175.6 477.1,176.2 477.8,176.3 478.2,176.9 478.9,177.0 479.3,177.6 480.0,177.6 480.5,178.1 481.2,178.0 481.7,178.6 482.4,178.6 482.9,179.0 483.6,179.0 484.2,179.4 484.8,179.3 485.4,179.7 486.1,179.5 486.6,180.0 487.3,179.8 487.9,180.2 488.6,179.9 489.2,180.3 489.9,180.1 490.3,180.8 491.1,180.8 491.5,181.5 492.3,181.5 492.8,182.0 493.6,182.0 494.0,182.6 494.8,182.5 495.3,183.2 496.0,183.0 496.5,183.6 497.2,183.6 497.8,184.1 498.5,183.9 499.0,184.4 499.7,184.4 500.2,184.9 500.9,184.8 501.5,185.1 502.2,184.7 502.8,185.1 503.4,184.8 504.0,185.1 504.7,184.7 505.3,184.9" stroke="#444444" stroke-width="2.7"/>
<polyline points="319.9,193.3 320.3,192.7 320.9,192.6 321.3,192.0 322.1,192.0 322.5,191.5 323.2,191.4 323.6,190.8 324.3,190.8 324.7,190.2 325.4,190.2 325.9,189.7 326.6,189.8 327.0,189.2 327.8,189.4 328.2,188.8 329.0,189.0 329.5,188.5 330.2,188.6 330.7,188.0 331.3,188.3 331.9,187.9 332.5,188.2 333.1,187.7 333.8,188.1 334.3,187.6 335.0,187.9 335.5,187.4 336.2,187.7 336.7,187.3 337.4,187.5 337.9,187.1 338.6,187.4 339.2,187.0 339.8,187.4 340.4,186.9 341.0,187.1 341.6,186.7 342.2,187.0 342.8,186.6 343.4,186.7 344.0,186.4 344.7,186.6 345.2,186.2 345.9,186.5 346.5,186.0 347.1,186.3 347.7,185.8 348.3,186.2 348.9,185.7 349.5,185.9 350.1,185.5 350.8,185.7 351.3,185.3 352.0,185.6 352.5,185.2 353.2,185.5 353.8,185.0 354.4,185.2 355.0,184.8 355.6,185.0 356.2,184.6 356.9,184.9 357.4,184.4 358.1,184.7 358.6,184.2 359.3,184.5 359.8,184.1 360.5,184.3 361.1,183.9 361.7,184.1 362.3,183.7 362.9,183.8 363.5,183.5 364.1,183.7 364.7,183.4 365.3,183.6 365.9,183.1 366.5,183.5 367.1,183.1 367.7,183.4 368.3,183.0 368.9,183.2 369.5,182.8 370.1,183.2 370.7,182.7 371.3,183.0 371.9,182.6 372.5,182.9 373.1,182.6 373.7,183.0 374.3,182.6 374.9,183.0 375.5,182.7 376.1,183.1 376.8,182.8 377.3,183.2 378.0,182.8 378.6,183.3 379.2,182.9 379.8,183.3 380.4,183.1 381.0,183.5 381.6,183.2 382.2,183.5 382.8,183.3 383.4,183.8 384.0,183.6 384.6,183.9 385.3,183.7 385.8,184.2 386.5,184.0 387.0,184.4 387.7,184.2 388.2,184.7 388.9,184.5 389.5,184.8 390.1,184.7 390.7,185.1 391.3,184.8 391.9,185.0 392.5,184.6 393.1,185.0 393.7,184.5 394.3,184.8 394.9,184.6 395.6,184.9 396.2,184.6 396.8,184.8 397.4,184.4 398.0,184.7 398.6,184.3 399.2,184.7 399.8,184.3 400.4,184.7 401.0,184.4 401.6,184.7 402.2,184.5 402.8,184.8 403.4,184.5 404.0,184.9 404.7,184.5 405.3,184.8 405.9,184.6 406.5,185.0 407.1,184.7 407.7,185.0 408.3,184.8 408.9,185.1 409.5,184.8 410.1,185.1 410.7,184.6 411.3,185.0 411.9,184.7 412.5,185.0 413.1,184.6 413.8,184.9 414.4,184.5 415.0,184.9 415.6,184.6 416.2,184.8 416.8,184.4 417.4,184.7 418.0,184.4 418.6,184.8 419.2,184.5 419.8,184.8 420.4,184.4 421.0,184.8 421.6,184.6 422.2,184.8 422.8,184.6 423.4,185.0 424.0,184.6 424.6,185.0 425.2,184.6 425.8,185.0 426.4,184.7 427.0,185.0 427.6,184.6 428.2,185.1 428.8,184.7 429.4,185.1 430.0,184.8 430.6,185.0 431.2,184.8 431.8,185.0 432.4,184.7 433.0,185.0 433.6,184.6 434.2,184.9 434.8,184.6 435.4,185.0 436.0,184.6 436.6,184.9 437.2,184.5 437.8,184.8 438.4,184.5 439.0,184.9 439.6,184.5 440.2,184.9 440.8,184.6 441.4,184.8 442.0,184.5 442.6,184.8 443.2,184.4 443.8,184.9 444.4,184.5 445.0,184.8 445.6,184.2 446.3,184.4 446.8,183.9 447.7,184.1 447.7,183.4 448.4,183.2 448.4,182.4 449.1,182.2 449.4,181.5 449.5,182.3 450.1,182.7 450.2,183.4 450.9,183.9 451.0,184.7 451.6,184.5 452.2,184.7 452.8,184.5 453.4,184.7 454.0,184.4 454.6,184.7 455.2,184.4 455.8,184.7 456.4,184.4 457.0,184.8 457.6,184.4 458.2,184.7 458.8,184.3 459.4,184.7 460.0,184.4 460.7,184.6 461.3,184.3 462.0,184.7 462.7,184.4 463.3,184.6 464.1,184.4 464.2,185.1 464.7,185.6 464.9,186.2 465.5,186.6 465.8,187.4 466.0,186.6 466.7,186.2 467.0,185.3 467.9,185.6 468.7,185.2 469.4,185.3 469.9,184.9 470.6,185.1 471.1,184.5 471.8,184.7 472.4,184.2 473.0,184.5 473.6,184.2 474.3,184.6 474.9,184.2 475.5,184.5 476.1,184.3 476.7,184.5 477.4,184.3 478.0,184.5 478.6,184.2 479.2,184.6 479.8,184.3 480.5,184.6 481.1,184.2 481.7,184.6 482.3,184.3 482.9,184.6 483.6,184.2 484.2,184.5 484.8,184.3 485.4,184.7 486.1,184.3 486.6,184.8 487.3,184.6 487.9,185.0 488.5,184.8 489.1,185.2 489.8,184.9 490.4,185.4 491.1,185.1 491.6,185.6 492.3,185.4 492.8,186.0 493.5,185.8 494.1,186.3 494.8,186.1 495.3,186.6 496.0,186.4 496.5,186.9 497.2,186.7 497.8,187.1 498.5,186.8 499.1,187.3 499.7,186.9 500.3,187.4 501.0,187.2 501.5,187.5 502.2,187.3 502.8,187.7 503.4,187.5 504.0,187.8 504.7,187.6 505.3,187.8" stroke="#ee3232" stroke-width="2.3"/>
<polyline points="319.8,193.3 320.4,193.0 321.0,193.0 321.6,192.8 322.2,192.8 322.8,192.5 323.4,192.5 324.0,192.3 324.6,192.3 325.2,192.1 325.8,192.2 326.4,192.0 327.1,192.1 327.7,191.9 328.3,192.0 328.9,191.7 329.5,191.8 330.1,191.7 330.7,191.8 331.3,191.7 331.9,191.8 332.5,191.6 333.2,191.7 333.8,191.6 334.4,191.7 335.0,191.5 335.6,191.7 336.2,191.5 336.8,191.6 337.4,191.4 338.0,191.6 338.6,191.5 339.2,191.6 339.8,191.4 340.4,191.5 341.0,191.4 341.7,191.5 342.3,191.3 342.9,191.4 343.5,191.3 344.1,191.4 344.7,191.3 345.3,191.3 345.9,191.3 346.5,191.3 347.1,191.2 347.7,191.4 348.3,191.2 348.9,191.3 349.5,191.2 350.1,191.3 350.7,191.2 351.3,191.3 351.9,191.2 352.5,191.3 353.1,191.2 353.7,191.3 354.3,191.2 354.9,191.3 355.5,191.2 356.1,191.3 356.7,191.1 357.3,191.3 357.9,191.2 358.5,191.3 359.1,191.1 359.7,191.3 360.3,191.2 360.9,191.3 361.5,191.2 362.1,191.3 362.7,191.1 363.3,191.2 363.9,191.1 364.5,191.2 365.1,191.1 365.7,191.2 366.3,191.1 366.9,191.2 367.5,191.1 368.1,191.2 368.7,191.1 369.3,191.2 369.9,191.1 370.5,191.2 371.1,191.1 371.7,191.2 372.3,191.0 372.9,191.2 373.5,191.1 374.1,191.2 374.7,191.0 375.3,191.1 375.9,191.0 376.5,191.1 377.1,191.0 377.7,191.2 378.3,191.0 378.9,191.1 379.5,191.0 380.1,191.2 380.7,191.0 381.4,191.1 381.9,191.0 382.6,191.1 383.2,190.9 383.8,191.1 384.4,191.0 385.0,191.1 385.6,190.9 386.2,191.1 386.8,190.9 387.4,191.1 388.0,191.0 388.6,191.1 389.2,190.9 389.8,191.1 390.4,190.9 391.0,191.0 391.6,190.9 392.2,191.0 392.8,190.9 393.4,191.1 394.0,190.9 394.6,191.1 395.2,190.9 395.8,191.0 396.4,190.9 397.0,191.0 397.6,190.8 398.2,191.0 398.8,190.9 399.4,191.0 400.0,190.9 400.6,191.0 401.2,190.8 401.8,191.0 402.4,190.9 403.0,191.0 403.6,190.8 404.2,191.0 404.8,190.8 405.4,191.0 406.0,190.8 406.6,191.0 407.2,190.8 407.8,190.9 408.4,190.8 409.0,190.9 409.6,190.8 410.2,190.9 410.8,190.8 411.4,190.9 412.0,190.8 412.6,190.9 413.2,190.8 413.8,190.9 414.4,190.8 415.0,190.9 415.6,190.8 416.2,190.9 416.8,190.8 417.4,190.9 418.0,190.7 418.6,190.9 419.2,190.7 419.8,190.8 420.4,190.8 421.0,190.8 421.6,190.7 422.2,190.8 422.8,190.7 423.4,190.8 424.0,190.7 424.6,190.8 425.2,190.7 425.8,190.8 426.5,190.7 427.1,190.9 427.7,190.7 428.3,190.8 428.9,190.7 429.5,190.9 430.1,190.7 430.7,190.8 431.3,190.7 431.9,190.8 432.5,190.7 433.1,190.8 433.7,190.7 434.3,190.8 434.9,190.7 435.5,190.8 436.1,190.7 436.7,190.8 437.3,190.7 437.9,190.8 438.5,190.7 439.1,190.8 439.7,190.7 440.3,190.8 440.9,190.6 441.5,190.8 442.2,190.6 442.8,190.8 443.4,190.6 444.0,190.8 444.6,190.6 445.2,190.8 445.8,190.6 446.4,190.8 447.0,190.6 447.6,190.8 448.2,190.6 448.8,190.7 449.4,190.6 450.0,190.7 450.6,190.6 451.2,190.7 451.8,190.7 452.4,190.8 453.0,190.6 453.6,190.7 454.2,190.6 454.8,190.8 455.4,190.6 456.0,190.7 456.6,190.6 457.2,190.8 457.8,190.6 458.4,190.8 459.0,190.6 459.6,190.8 460.2,190.6 460.8,190.8 461.4,190.6 462.0,190.7 462.6,190.6 463.2,190.8 463.8,190.6 464.4,190.7 465.0,190.6 465.6,190.7 466.2,190.6 466.8,190.7 467.4,190.6 468.0,190.7 468.6,190.6 469.2,190.7 469.8,190.6 470.4,190.7 471.0,190.6 471.6,190.7 472.2,190.6 472.8,190.8 473.4,190.6 474.0,190.7 474.6,190.6 475.2,190.7 475.8,190.6 476.4,190.7 477.0,190.6 477.7,190.7 478.3,190.6 478.9,190.7 479.5,190.6 480.1,190.7 480.7,190.6 481.3,190.7 481.9,190.6 482.5,190.7 483.1,190.6 483.7,190.7 484.3,190.5 484.9,190.7 485.5,190.6 486.1,190.7 486.7,190.6 487.3,190.7 487.9,190.5 488.5,190.7 489.1,190.6 489.7,190.7 490.3,190.6 490.9,190.7 491.5,190.6 492.1,190.7 492.7,190.6 493.3,190.7 493.9,190.6 494.5,190.7 495.1,190.6 495.7,190.7 496.3,190.6 496.9,190.7 497.5,190.5 498.1,190.7 498.7,190.6 499.3,190.7 499.9,190.6 500.5,190.7 501.1,190.6 501.7,190.7 502.3,190.5 502.9,190.7 503.5,190.6 504.1,190.6 504.7,190.5 505.3,190.6" stroke="#1556d0" stroke-width="2.3"/>
</g>
<line x1="467.4" y1="10.9" x2="467.4" y2="193.6" stroke="#3a3a3a" stroke-width="1.15" stroke-dasharray="3.8 3.3"/>
<g stroke="#3535e8" stroke-width="1.6" stroke-dasharray="4.7 4.4">
<line x1="330.0" y1="76.4" x2="458.5" y2="76.4"/>
<line x1="479.7" y1="76.4" x2="535.0" y2="76.4"/>
</g>
<polygon points="319.8,76.4 325.8,74.6 325.8,78.2" fill="#3535e8"/>
<polygon points="464.5,76.4 458.5,74.6 458.5,78.2" fill="#3535e8"/>
<polygon points="469.5,76.4 475.5,74.6 475.5,78.2" fill="#3535e8"/>
<polygon points="541.0,76.4 535.0,74.6 535.0,78.2" fill="#3535e8"/>
<rect x="319.2" y="9.4" width="223.4" height="184.2" fill="none" stroke="#4a4a4a" stroke-width="1.3"/>
<path d="M319.2,193.6v-3M351.1,193.6v-3M383.0,193.6v-3M414.9,193.6v-3M446.9,193.6v-3M478.8,193.6v-3M510.7,193.6v-3M542.6,193.6v-3M319.2,193.6h3M319.2,167.3h3M319.2,141.0h3M319.2,114.7h3M319.2,88.3h3M319.2,62.0h3M319.2,35.7h3M319.2,9.4h3" stroke="#4a4a4a" stroke-width="1.1" fill="none"/>
<g fill="#111"><text transform="translate(319.20,204.80) scale(0.930,1)" font-size="8.90" text-anchor="middle">0</text><text transform="translate(351.11,204.80) scale(0.930,1)" font-size="8.90" text-anchor="middle">4</text><text transform="translate(383.03,204.80) scale(0.930,1)" font-size="8.90" text-anchor="middle">8</text><text transform="translate(414.94,204.80) scale(0.930,1)" font-size="8.90" text-anchor="middle">12</text><text transform="translate(446.86,204.80) scale(0.930,1)" font-size="8.90" text-anchor="middle">16</text><text transform="translate(478.77,204.80) scale(0.930,1)" font-size="8.90" text-anchor="middle">20</text><text transform="translate(510.69,204.80) scale(0.930,1)" font-size="8.90" text-anchor="middle">24</text><text transform="translate(542.60,204.80) scale(0.930,1)" font-size="8.90" text-anchor="middle">28</text><text transform="translate(315.20,195.79) scale(0.930,1)" font-size="8.90" text-anchor="end">0.0</text><text transform="translate(315.20,169.47) scale(0.930,1)" font-size="8.90" text-anchor="end">0.5</text><text transform="translate(315.20,143.16) scale(0.930,1)" font-size="8.90" text-anchor="end">1.0</text><text transform="translate(315.20,116.84) scale(0.930,1)" font-size="8.90" text-anchor="end">1.5</text><text transform="translate(315.20,90.53) scale(0.930,1)" font-size="8.90" text-anchor="end">2.0</text><text transform="translate(315.20,64.21) scale(0.930,1)" font-size="8.90" text-anchor="end">2.5</text><text transform="translate(315.20,37.90) scale(0.930,1)" font-size="8.90" text-anchor="end">3.0</text><text transform="translate(315.20,11.59) scale(0.930,1)" font-size="8.90" text-anchor="end">3.5</text></g>
<text x="431.0" y="220.4" font-size="11.05" text-anchor="middle" fill="#111">Injected pore volume (PV)</text>
<text transform="translate(291.6,90.0) rotate(-90)" font-size="11.10" text-anchor="middle" fill="#111">Pressure (MPa)</text>
<text x="277.8" y="21.0" font-size="16.30" text-anchor="start" fill="#000">(b)</text>
<text x="374.7" y="60.4" font-size="8.45" text-anchor="start" fill="#1a1a1a">Polymer</text>
<text x="374.7" y="71.2" font-size="8.45" text-anchor="start" fill="#1a1a1a">flooding</text>
<text x="477.4" y="60.0" font-size="8.45" text-anchor="start" fill="#1a1a1a">Subsequent</text>
<text x="477.4" y="71.2" font-size="8.45" text-anchor="start" fill="#1a1a1a">water flooding</text>
<path d="M335.9,20.4H344.8M348.8,20.4H356.8" stroke="#d2d2d2" stroke-width="1"/>
<rect x="345.7" y="19.3" width="2.2" height="2.2" fill="#222"/>
<text x="359.2" y="23.7" font-size="9.20" fill="#111">P<tspan font-size="6.81" dy="3.04">1</tspan></text>
<path d="M335.9,34.9H344.8M348.8,34.9H356.8" stroke="#f7c8c8" stroke-width="1"/>
<circle cx="346.8" cy="34.9" r="1.4" fill="#ee3232"/>
<text x="359.2" y="38.2" font-size="9.20" fill="#111">P<tspan font-size="6.81" dy="3.04">2</tspan></text>
<path d="M335.9,49.2H344.8M348.8,49.2H356.8" stroke="#c4d4f2" stroke-width="1"/>
<polygon points="346.8,47.6 345.3,50.3 348.3,50.3" fill="#1556d0"/>
<text x="359.2" y="52.5" font-size="9.20" fill="#111">P<tspan font-size="6.81" dy="3.04">3</tspan></text>
<g fill="none" stroke-linejoin="round" stroke-linecap="round">
<polyline points="52.5,416.5 51.7,415.8 52.8,415.3 51.9,414.6 52.8,414.1 52.0,413.4 52.8,412.9 52.2,412.2 53.1,411.7 52.2,410.9 53.0,410.4 52.5,409.7 53.1,409.2 52.4,408.5 53.5,408.0 52.9,407.3 53.8,406.8 52.7,406.0 53.6,405.9 53.6,404.8 54.6,405.0 54.9,404.2 55.8,404.4 56.0,403.5 56.8,403.6 57.3,402.8 58.0,403.2 58.5,402.4 59.3,403.0 59.7,402.0 60.6,402.8 61.1,401.7 61.8,402.5 62.3,401.6 63.0,402.4 63.5,401.6 64.2,402.5 64.7,401.2 65.4,402.3 65.9,401.2 66.9,401.7 66.6,400.8 68.3,400.8 66.7,399.3 69.2,400.2 67.2,397.6 70.2,399.3 68.0,396.6 71.1,398.4 68.4,395.2 70.9,396.5 69.9,394.8 72.7,396.3 70.5,393.6 73.5,395.6 71.5,392.6 73.5,393.8 72.2,391.5 75.1,393.6 73.5,391.0 75.4,392.0 74.4,390.0 77.2,392.0 74.9,388.7 76.7,390.5 77.2,389.2 77.8,389.7 78.4,389.2 79.1,389.8 79.6,389.0 80.3,389.6 80.8,388.7 81.5,389.3 82.0,388.5 82.7,389.1 83.1,388.4 84.0,388.8 84.4,388.0 85.2,388.3 85.6,387.5 86.6,388.1 86.8,386.8 87.7,387.4 88.0,386.3 88.9,386.9 89.4,386.1 90.2,386.8 90.6,385.6 91.5,386.1 91.9,385.1 92.4,385.6 93.2,386.0 92.7,386.8 93.7,387.1 93.3,387.9 94.1,388.3 93.8,389.0 93.9,389.3 94.8,389.0 94.4,388.1 95.4,387.8 95.0,386.9 96.1,386.7 95.5,385.7 96.5,385.4 95.8,384.4 96.6,384.3 97.2,383.6 97.3,384.0 98.5,384.2 98.0,385.1 98.8,385.5 98.3,386.4 99.6,386.6 99.0,387.6 100.1,387.9 99.2,388.9 100.3,389.0 100.2,390.0 101.1,390.0 101.3,390.7 102.3,390.6 102.2,391.7 103.2,391.5 103.2,392.5 103.9,392.2 104.6,393.1 105.2,392.4 105.9,393.0 106.5,392.2 107.4,392.9 107.4,392.0 108.3,392.1 108.0,391.0 109.1,391.2 109.0,390.2 110.0,390.3 109.8,389.3 110.6,389.2 110.6,388.4 111.5,388.4 111.5,387.5 112.3,387.7 112.6,386.8 113.5,387.2 113.7,386.3 114.6,386.6 114.7,385.5 115.8,386.3 115.9,385.0 116.9,385.6 116.8,384.8 117.6,384.4 117.3,383.6 117.8,383.2 117.2,382.4 118.4,382.0 117.5,381.2 118.4,380.8 117.9,380.0 118.9,379.6 118.2,378.8 119.1,378.4 118.5,377.5 119.5,377.3 119.1,376.5 120.2,376.3 119.5,375.3 120.7,375.2 120.0,374.2 121.2,374.1 120.4,373.1 121.5,372.9 121.9,372.1 120.9,372.9 122.1,373.3 121.3,374.1 122.2,374.6 121.3,375.3 122.3,375.8 121.5,376.5 122.4,377.0 121.7,377.7 122.6,378.2 122.1,379.0 122.9,379.5 122.0,380.3 123.2,380.7 122.3,381.5 123.2,382.0 122.5,382.8 123.5,383.3 122.9,384.0 123.9,384.5 123.2,385.3 124.1,385.8 123.5,386.5 124.2,387.1 123.4,387.7 124.2,388.3 123.4,388.9 124.3,389.5 123.5,390.1 124.6,390.7 123.7,391.3 124.3,391.9 123.8,392.5 124.6,393.1 123.9,393.7 124.5,394.3 123.7,394.9 124.7,395.5 123.9,396.1 124.9,396.7 124.0,397.3 124.9,397.9 124.2,398.5 124.9,399.1 124.0,399.7 125.1,400.3 124.0,400.9 125.0,401.5 124.2,402.1 125.0,402.7 124.5,403.3 125.2,403.9 125.3,404.5 124.3,403.8 125.4,403.3 124.4,402.6 125.3,402.1 124.8,401.4 125.5,400.9 124.9,400.2 125.5,399.6 124.9,399.0 125.8,398.4 125.0,397.7 125.8,397.2 125.0,396.5 126.2,396.0 125.3,395.3 125.9,394.7 125.5,394.1 126.4,393.5 125.6,392.8 126.4,392.3 125.6,391.6 126.4,391.1 125.6,390.4 126.4,389.8 125.9,389.2 126.6,388.6 126.1,387.9 126.9,387.4 126.1,386.7 126.8,386.1 126.3,385.5 127.1,385.0 126.3,384.2 127.2,383.8 126.4,383.0 127.5,382.6 125.1,381.6 128.7,381.5 126.3,380.6 128.6,380.3 126.5,379.4 128.2,379.0 126.3,378.1 129.3,377.9 126.8,377.0 128.9,376.7 126.8,375.7 129.6,375.5 126.8,374.5 129.7,374.3 126.7,372.9 129.7,373.3 127.2,371.6 130.8,372.4 128.5,370.8 131.3,371.2 128.2,369.2 130.8,369.5 129.1,368.1 131.9,368.7 129.1,366.6 132.1,367.4 130.0,365.7 133.2,366.6 130.3,364.5 133.9,365.5 131.2,363.6 134.0,364.3 132.1,362.6 134.7,363.2 131.8,361.2 135.1,362.0 132.5,360.1 135.1,360.6 132.8,358.8 136.5,359.8 133.2,357.6 136.5,358.4 133.9,356.6 136.8,357.1 134.3,355.3 137.9,356.3 135.5,354.4 137.6,354.6 136.0,353.2 138.7,353.7 136.0,352.3 139.1,352.0 137.1,351.1 139.7,350.8 137.2,349.9 139.8,349.5 137.2,348.6 139.3,348.2 136.6,347.2 139.2,346.9 137.5,346.1 139.9,345.7 137.0,344.7 140.4,344.5 137.1,343.4 140.7,343.2 137.5,342.3 140.8,341.9 138.1,341.1 139.3,340.6 138.7,339.9 139.4,339.4 138.7,338.7 139.7,338.2 138.9,337.5 139.9,336.9 139.0,336.2 139.8,335.7 139.1,335.0 140.1,334.5 139.0,333.8 139.9,333.2 139.2,332.6 140.3,332.1 139.4,331.4 140.3,330.8 139.6,330.1 140.4,329.6 139.7,328.9 140.4,328.4 139.9,327.7 140.7,327.2 139.9,326.5 140.6,325.9 139.9,325.2 140.7,324.7 140.1,324.0 140.9,323.5 140.3,322.8 140.9,322.3 140.3,321.6 141.2,321.1 140.4,320.3 141.2,319.9 140.7,319.1 141.4,318.6 141.0,317.9 141.9,317.5 141.1,316.7 142.0,316.3 141.5,315.5 142.1,315.0 141.7,314.3 142.6,313.9 142.0,313.2 142.8,312.7 142.3,312.0 142.8,311.4 142.4,310.8 143.1,310.2 142.4,309.6 143.0,309.0 142.4,308.4 143.1,307.8 142.5,307.2 143.2,306.6 142.7,306.0 143.3,305.4 142.9,304.8 143.5,304.2 142.9,303.6 143.6,303.0 143.0,302.4 143.7,301.8 143.2,301.2 143.7,300.6 143.2,300.0 144.0,299.4 143.3,298.8 144.1,298.2 143.4,297.6 144.2,297.1 143.7,296.3 144.4,295.8" stroke="#444444" stroke-width="2.5"/>
<polyline points="144.4,295.8 143.7,295.1" stroke="#444444" stroke-width="1.7" stroke-linecap="butt" stroke-dasharray="1.8 1.0"/>
<polyline points="143.7,295.1 144.7,294.6" stroke="#444444" stroke-width="2.5"/>
<polyline points="144.7,294.6 144.0,293.8" stroke="#444444" stroke-width="1.7" stroke-linecap="butt" stroke-dasharray="1.8 1.0"/>
<polyline points="144.0,293.8 144.7,293.3" stroke="#444444" stroke-width="2.5"/>
<polyline points="144.7,293.3 144.0,292.5" stroke="#444444" stroke-width="1.7" stroke-linecap="butt" stroke-dasharray="1.8 1.0"/>
<polyline points="144.0,292.5 144.8,292.0" stroke="#444444" stroke-width="2.5"/>
<polyline points="144.8,292.0 144.1,291.4" stroke="#444444" stroke-width="1.7" stroke-linecap="butt" stroke-dasharray="1.8 1.0"/>
<polyline points="144.1,291.4 145.1,290.8" stroke="#444444" stroke-width="2.5"/>
<polyline points="145.1,290.8 144.5,290.2 145.0,289.6 144.3,289.0" stroke="#444444" stroke-width="1.7" stroke-linecap="butt" stroke-dasharray="1.8 1.0"/>
<polyline points="144.3,289.0 145.0,288.4" stroke="#444444" stroke-width="2.5"/>
<polyline points="145.0,288.4 144.6,287.8 145.3,287.2 144.5,286.6 145.3,286.0 144.7,285.4 145.2,284.8 144.6,284.2 145.2,283.6 144.8,283.0 145.4,282.4 144.6,281.8 145.6,281.2 144.9,280.6 145.5,280.0 144.8,279.4 145.6,278.8 144.8,278.2 145.5,277.6 145.5,277.0 145.1,277.6 145.5,278.2 145.0,278.8 145.7,279.4 145.1,280.1 145.7,280.6 145.2,281.3 145.7,281.9 145.1,282.5 146.1,283.1 145.1,283.7 145.8,284.3 145.4,284.9 146.1,285.5 145.4,286.1 146.1,286.7 145.5,287.4 146.1,287.9 145.5,288.6 146.1,289.2 145.5,289.8 146.1,290.4 145.5,291.1 146.4,291.6" stroke="#444444" stroke-width="1.7" stroke-linecap="butt" stroke-dasharray="1.8 1.0"/>
<polyline points="146.4,291.6 145.9,292.3" stroke="#444444" stroke-width="2.5"/>
<polyline points="145.9,292.3 146.5,292.9" stroke="#444444" stroke-width="1.7" stroke-linecap="butt" stroke-dasharray="1.8 1.0"/>
<polyline points="146.5,292.9 145.9,293.6" stroke="#444444" stroke-width="2.5"/>
<polyline points="145.9,293.6 146.7,294.1" stroke="#444444" stroke-width="1.7" stroke-linecap="butt" stroke-dasharray="1.8 1.0"/>
<polyline points="146.7,294.1 146.3,294.9 146.8,295.4 146.4,296.1 147.0,296.7 146.4,297.4 147.4,298.0" stroke="#444444" stroke-width="2.5"/>
<polyline points="147.4,298.0 146.6,298.6" stroke="#444444" stroke-width="1.7" stroke-linecap="butt" stroke-dasharray="1.8 1.0"/>
<polyline points="146.6,298.6 147.5,299.2" stroke="#444444" stroke-width="2.5"/>
<polyline points="147.5,299.2 146.8,299.9" stroke="#444444" stroke-width="1.7" stroke-linecap="butt" stroke-dasharray="1.8 1.0"/>
<polyline points="146.8,299.9 147.5,300.4" stroke="#444444" stroke-width="2.5"/>
<polyline points="147.5,300.4 146.9,301.1" stroke="#444444" stroke-width="1.7" stroke-linecap="butt" stroke-dasharray="1.8 1.0"/>
<polyline points="146.9,301.1 147.6,301.7" stroke="#444444" stroke-width="2.5"/>
<polyline points="147.6,301.7 146.8,302.3" stroke="#444444" stroke-width="1.7" stroke-linecap="butt" stroke-dasharray="1.8 1.0"/>
<polyline points="146.8,302.3 147.8,302.9" stroke="#444444" stroke-width="2.5"/>
<polyline points="147.8,302.9 147.2,303.6" stroke="#444444" stroke-width="1.7" stroke-linecap="butt" stroke-dasharray="1.8 1.0"/>
<polyline points="147.2,303.6 147.9,304.1" stroke="#444444" stroke-width="2.5"/>
<polyline points="147.9,304.1 147.1,304.8" stroke="#444444" stroke-width="1.7" stroke-linecap="butt" stroke-dasharray="1.8 1.0"/>
<polyline points="147.1,304.8 148.0,305.4" stroke="#444444" stroke-width="2.5"/>
<polyline points="148.0,305.4 147.2,306.0" stroke="#444444" stroke-width="1.7" stroke-linecap="butt" stroke-dasharray="1.8 1.0"/>
<polyline points="147.2,306.0 147.9,306.6" stroke="#444444" stroke-width="2.5"/>
<polyline points="147.9,306.6 147.2,307.2" stroke="#444444" stroke-width="1.7" stroke-linecap="butt" stroke-dasharray="1.8 1.0"/>
<polyline points="147.2,307.2 148.1,307.8" stroke="#444444" stroke-width="2.5"/>
<polyline points="148.1,307.8 147.3,308.4" stroke="#444444" stroke-width="1.7" stroke-linecap="butt" stroke-dasharray="1.8 1.0"/>
<polyline points="147.3,308.4 148.1,309.0" stroke="#444444" stroke-width="2.5"/>
<polyline points="148.1,309.0 147.3,309.6" stroke="#444444" stroke-width="1.7" stroke-linecap="butt" stroke-dasharray="1.8 1.0"/>
<polyline points="147.3,309.6 148.0,310.2" stroke="#444444" stroke-width="2.5"/>
<polyline points="148.0,310.2 147.3,310.8 147.9,311.4 147.5,312.0 148.1,312.6 147.6,313.2 148.1,313.8 147.4,314.4 148.2,315.0 147.6,315.6 148.3,316.2 147.5,316.8 148.2,317.4 148.3,318.0 147.6,317.4 148.3,316.8 147.6,316.2 148.5,315.6 147.6,315.0 148.4,314.4 147.6,313.8 148.5,313.2" stroke="#444444" stroke-width="1.7" stroke-linecap="butt" stroke-dasharray="1.8 1.0"/>
<polyline points="148.5,313.2 147.9,312.6" stroke="#444444" stroke-width="2.5"/>
<polyline points="147.9,312.6 148.4,312.0 147.7,311.4 148.3,310.8 147.8,310.2 148.3,309.6 147.9,309.0 148.4,308.4 147.9,307.8 148.4,307.2 147.7,306.6 148.6,306.0" stroke="#444444" stroke-width="1.7" stroke-linecap="butt" stroke-dasharray="1.8 1.0"/>
<polyline points="148.6,306.0 147.9,305.4" stroke="#444444" stroke-width="2.5"/>
<polyline points="147.9,305.4 148.8,304.8" stroke="#444444" stroke-width="1.7" stroke-linecap="butt" stroke-dasharray="1.8 1.0"/>
<polyline points="148.8,304.8 148.0,304.2" stroke="#444444" stroke-width="2.5"/>
<polyline points="148.0,304.2 148.9,303.6" stroke="#444444" stroke-width="1.7" stroke-linecap="butt" stroke-dasharray="1.8 1.0"/>
<polyline points="148.9,303.6 148.0,303.0" stroke="#444444" stroke-width="2.5"/>
<polyline points="148.0,303.0 148.9,302.4" stroke="#444444" stroke-width="1.7" stroke-linecap="butt" stroke-dasharray="1.8 1.0"/>
<polyline points="148.9,302.4 148.3,301.8" stroke="#444444" stroke-width="2.5"/>
<polyline points="148.3,301.8 148.9,301.2" stroke="#444444" stroke-width="1.7" stroke-linecap="butt" stroke-dasharray="1.8 1.0"/>
<polyline points="148.9,301.2 148.1,300.6" stroke="#444444" stroke-width="2.5"/>
<polyline points="148.1,300.6 148.8,300.0" stroke="#444444" stroke-width="1.7" stroke-linecap="butt" stroke-dasharray="1.8 1.0"/>
<polyline points="148.8,300.0 148.2,299.4" stroke="#444444" stroke-width="2.5"/>
<polyline points="148.2,299.4 148.9,298.8" stroke="#444444" stroke-width="1.7" stroke-linecap="butt" stroke-dasharray="1.8 1.0"/>
<polyline points="148.9,298.8 148.4,298.2" stroke="#444444" stroke-width="2.5"/>
<polyline points="148.4,298.2 149.0,297.6" stroke="#444444" stroke-width="1.7" stroke-linecap="butt" stroke-dasharray="1.8 1.0"/>
<polyline points="149.0,297.6 148.5,297.0" stroke="#444444" stroke-width="2.5"/>
<polyline points="148.5,297.0 149.3,296.5" stroke="#444444" stroke-width="1.7" stroke-linecap="butt" stroke-dasharray="1.8 1.0"/>
<polyline points="149.3,296.5 148.8,295.8 149.5,295.3" stroke="#444444" stroke-width="2.5"/>
<polyline points="149.5,295.3 148.9,294.6" stroke="#444444" stroke-width="1.8" stroke-linecap="butt" stroke-dasharray="1.8 1.0"/>
<polyline points="148.9,294.6 149.6,294.1" stroke="#444444" stroke-width="2.5"/>
<polyline points="149.6,294.1 149.0,293.3" stroke="#444444" stroke-width="1.8" stroke-linecap="butt" stroke-dasharray="1.8 1.0"/>
<polyline points="149.0,293.3 149.7,292.8" stroke="#444444" stroke-width="2.5"/>
<polyline points="149.7,292.8 149.3,292.2" stroke="#444444" stroke-width="1.8" stroke-linecap="butt" stroke-dasharray="1.8 1.0"/>
<polyline points="149.3,292.2 150.0,291.7" stroke="#444444" stroke-width="2.5"/>
<polyline points="150.0,291.7 149.3,291.0" stroke="#444444" stroke-width="1.8" stroke-linecap="butt" stroke-dasharray="1.8 1.0"/>
<polyline points="149.3,291.0 150.0,290.4" stroke="#444444" stroke-width="2.5"/>
<polyline points="150.0,290.4 149.3,289.8" stroke="#444444" stroke-width="1.8" stroke-linecap="butt" stroke-dasharray="1.8 1.0"/>
<polyline points="149.3,289.8 150.0,289.2" stroke="#444444" stroke-width="2.5"/>
<polyline points="150.0,289.2 149.6,288.6 150.0,288.0 149.6,287.4 150.0,286.8 149.4,286.2 150.1,285.6 149.4,285.0" stroke="#444444" stroke-width="1.8" stroke-linecap="butt" stroke-dasharray="1.8 1.0"/>
<polyline points="149.4,285.0 150.3,284.4" stroke="#444444" stroke-width="2.5"/>
<polyline points="150.3,284.4 149.7,283.8 150.4,283.2" stroke="#444444" stroke-width="1.8" stroke-linecap="butt" stroke-dasharray="1.8 1.0"/>
<polyline points="150.4,283.2 149.4,282.6" stroke="#444444" stroke-width="2.5"/>
<polyline points="149.4,282.6 150.1,282.0 149.5,281.4 150.3,280.8 149.7,280.2 150.5,279.6" stroke="#444444" stroke-width="1.8" stroke-linecap="butt" stroke-dasharray="1.8 1.0"/>
<polyline points="150.5,279.6 149.8,279.0" stroke="#444444" stroke-width="2.5"/>
<polyline points="149.8,279.0 150.4,278.4" stroke="#444444" stroke-width="1.8" stroke-linecap="butt" stroke-dasharray="1.8 1.0"/>
<polyline points="150.4,278.4 149.6,277.8" stroke="#444444" stroke-width="2.5"/>
<polyline points="149.6,277.8 150.5,277.2" stroke="#444444" stroke-width="1.8" stroke-linecap="butt" stroke-dasharray="1.8 1.0"/>
<polyline points="150.5,277.2 149.8,276.6" stroke="#444444" stroke-width="2.5"/>
<polyline points="149.8,276.6 150.6,276.0" stroke="#444444" stroke-width="1.8" stroke-linecap="butt" stroke-dasharray="1.8 1.0"/>
<polyline points="150.6,276.0 149.7,275.4" stroke="#444444" stroke-width="2.5"/>
<polyline points="149.7,275.4 150.5,274.8" stroke="#444444" stroke-width="1.8" stroke-linecap="butt" stroke-dasharray="1.8 1.0"/>
<polyline points="150.5,274.8 150.0,274.2" stroke="#444444" stroke-width="2.5"/>
<polyline points="150.0,274.2 150.6,273.6" stroke="#444444" stroke-width="1.8" stroke-linecap="butt" stroke-dasharray="1.8 1.0"/>
<polyline points="150.6,273.6 149.9,272.9" stroke="#444444" stroke-width="2.5"/>
<polyline points="149.9,272.9 150.5,272.4" stroke="#444444" stroke-width="1.8" stroke-linecap="butt" stroke-dasharray="1.8 1.0"/>
<polyline points="150.5,272.4 150.1,271.7" stroke="#444444" stroke-width="2.5"/>
<polyline points="150.1,271.7 150.6,271.1" stroke="#444444" stroke-width="1.8" stroke-linecap="butt" stroke-dasharray="1.8 1.0"/>
<polyline points="150.6,271.1 150.1,270.5" stroke="#444444" stroke-width="2.5"/>
<polyline points="150.1,270.5 151.1,269.9" stroke="#444444" stroke-width="1.8" stroke-linecap="butt" stroke-dasharray="1.8 1.0"/>
<polyline points="151.1,269.9 149.4,269.3 151.1,268.7 149.8,268.1" stroke="#444444" stroke-width="2.5"/>
<polyline points="149.8,268.1 151.3,267.5" stroke="#444444" stroke-width="1.8" stroke-linecap="butt" stroke-dasharray="1.8 1.0"/>
<polyline points="151.3,267.5 149.7,266.8" stroke="#444444" stroke-width="2.5"/>
<polyline points="149.7,266.8 151.5,266.3" stroke="#444444" stroke-width="1.8" stroke-linecap="butt" stroke-dasharray="1.8 1.0"/>
<polyline points="151.5,266.3 149.6,265.6" stroke="#444444" stroke-width="2.5"/>
<polyline points="149.6,265.6 151.7,265.1" stroke="#444444" stroke-width="1.8" stroke-linecap="butt" stroke-dasharray="1.8 1.0"/>
<polyline points="151.7,265.1 149.4,264.4 151.5,263.9 150.0,263.2" stroke="#444444" stroke-width="2.5"/>
<polyline points="150.0,263.2 151.1,262.6" stroke="#444444" stroke-width="1.8" stroke-linecap="butt" stroke-dasharray="1.8 1.0"/>
<polyline points="151.1,262.6 149.5,261.9" stroke="#444444" stroke-width="2.5"/>
<polyline points="149.5,261.9 151.7,261.5" stroke="#444444" stroke-width="1.8" stroke-linecap="butt" stroke-dasharray="1.8 1.0"/>
<polyline points="151.7,261.5 149.8,260.7" stroke="#444444" stroke-width="2.5"/>
<polyline points="149.8,260.7 151.5,260.2" stroke="#444444" stroke-width="1.8" stroke-linecap="butt" stroke-dasharray="1.8 1.0"/>
<polyline points="151.5,260.2 150.2,259.5" stroke="#444444" stroke-width="2.5"/>
<polyline points="150.2,259.5 151.8,259.0" stroke="#444444" stroke-width="1.8" stroke-linecap="butt" stroke-dasharray="1.8 1.0"/>
<polyline points="151.8,259.0 150.1,258.2" stroke="#444444" stroke-width="2.5"/>
<polyline points="150.1,258.2 151.9,257.8" stroke="#444444" stroke-width="1.8" stroke-linecap="butt" stroke-dasharray="1.8 1.0"/>
<polyline points="151.9,257.8 150.1,257.0" stroke="#444444" stroke-width="2.5"/>
<polyline points="150.1,257.0 152.1,256.5" stroke="#444444" stroke-width="1.8" stroke-linecap="butt" stroke-dasharray="1.8 1.0"/>
<polyline points="152.1,256.5 150.6,255.8 151.8,255.3 150.1,254.5" stroke="#444444" stroke-width="2.5"/>
<polyline points="150.1,254.5 150.2,254.1 152.5,254.5" stroke="#444444" stroke-width="1.8" stroke-linecap="butt" stroke-dasharray="1.8 1.0"/>
<polyline points="152.5,254.5 151.0,255.3 152.0,255.8 151.0,256.5 152.4,257.0 150.9,257.8 152.3,258.2 151.1,259.0 152.5,259.5 151.6,260.2 153.1,260.7 151.4,261.5 151.4,261.7 153.2,261.6 151.9,260.6 153.4,260.5 152.4,259.5 154.2,259.5 152.4,258.2 153.2,258.2 154.3,258.3 153.2,259.6 155.2,259.2 153.8,260.6 155.6,260.6 154.4,261.5 155.9,261.9 154.3,262.9 156.2,263.2 154.7,264.2 156.9,264.5 155.2,265.5 156.8,265.9 155.1,266.7 157.3,267.1 155.5,267.9 157.0,268.3 155.9,269.1 157.5,269.5 156.0,270.3 157.0,270.7 155.8,271.5 157.5,271.8 156.0,272.9 157.7,272.9 156.3,274.0 157.9,274.1 157.1,275.0 158.7,275.1 157.6,276.0 158.6,276.6 157.3,277.3 159.0,277.8 157.7,278.5 158.8,279.0 157.8,279.8 159.3,280.2 157.9,281.0 159.0,281.5 157.9,282.3 159.4,282.7 157.9,283.5 159.8,283.9 158.0,284.8 159.6,285.2 158.2,286.0 159.7,286.5 158.6,287.2 159.9,287.7 158.4,288.5 160.3,288.9 159.0,289.7 160.2,290.1 159.1,290.9 160.3,291.3 159.2,292.1 160.5,292.5 159.6,293.3 160.8,293.7 159.4,294.5 161.0,294.9 159.5,295.7 161.2,296.1 160.1,296.9 161.5,297.3 159.8,298.1 161.4,298.5 160.6,299.3 161.7,299.7 160.4,300.5 161.9,300.9 160.4,301.8 162.2,302.1 160.7,303.0 162.0,303.4 161.1,304.3 162.7,304.6 161.6,305.5 162.5,305.9 161.4,306.8 163.3,307.1 162.0,308.0 163.3,308.4 162.2,309.2 163.6,309.6 162.2,310.6 163.6,310.8 162.8,311.7 164.3,311.9 163.0,313.0 164.7,313.1 163.5,314.2 164.8,314.4 163.5,315.5 165.4,315.6 164.2,316.6 165.7,316.8 164.4,317.8 166.1,318.1 164.6,319.2 166.3,319.4 165.0,320.4 166.8,320.7 165.3,321.7 167.2,321.9 165.6,323.0 167.5,323.2 165.8,324.2 167.6,324.5 166.3,325.4 167.9,325.7 166.4,326.6 168.0,326.9 166.8,327.8 168.0,328.2 166.9,329.0 168.8,329.4 167.2,330.2 168.4,330.7 167.5,331.4 168.7,331.9 167.6,332.6 169.2,333.0 167.9,333.8 168.9,334.3 168.0,335.0 169.2,335.5 167.7,336.3 169.1,336.7 168.3,337.4 169.4,337.9 168.1,338.7 169.8,339.1 168.6,339.8 169.4,340.3 168.6,341.0 169.6,341.5 168.7,342.2 170.1,342.7 168.6,343.5 169.9,344.0 169.0,344.7 170.0,345.3 169.1,346.0 170.4,346.5 169.1,347.2 170.4,347.7 168.9,348.5 170.5,349.0 169.4,349.7 170.9,350.2 169.0,351.0 170.4,351.5 169.7,352.2 170.7,352.7 169.8,353.4 170.6,354.0 170.1,354.6 171.0,355.2 169.9,355.9 170.8,356.4 170.1,357.1 171.0,357.6 170.4,358.4 171.4,358.8 170.5,359.6 171.3,360.1 170.9,360.8 171.6,361.4 171.0,362.1 172.0,362.6 171.1,363.4 172.1,363.8 171.5,364.6 172.2,365.1 171.7,365.8 171.8,366.4 172.7,365.9 171.8,365.2 172.7,364.6 171.8,363.9 172.7,363.4 172.1,362.8 172.8,362.2 172.1,361.5 172.9,361.0 172.2,360.3 173.3,359.9 172.3,359.1 173.1,358.6 172.6,358.0 173.5,357.4 172.8,356.8 173.5,356.2 172.8,355.6 173.8,355.1 172.9,354.4 173.9,353.9 173.1,353.2 174.0,352.7 173.2,352.0 174.2,351.5 173.4,350.8 174.3,350.3 173.5,349.6 174.3,349.0 173.5,348.4 174.3,347.9 173.6,347.1 174.6,346.7 174.1,346.0 174.8,345.5 174.4,344.8 175.2,344.4 174.5,343.6 175.5,343.2 175.2,342.0 176.0,342.6 176.4,341.8 177.2,342.4 177.5,341.3 178.4,342.2 178.7,341.1 179.5,341.6 179.9,340.9 180.5,341.6 181.3,341.0 181.7,341.8 182.5,341.2 182.9,341.9 183.7,341.3 184.0,342.5 184.8,341.9 185.2,342.8 186.1,342.3 186.1,343.2 187.1,343.1 187.0,344.1 187.9,344.0 187.9,345.0 188.9,344.8 188.8,345.8 189.7,345.9 189.5,346.8 190.5,346.9 190.1,347.9 191.3,347.9 190.8,349.0 191.9,349.1 191.4,350.1 192.4,350.2 192.3,351.0 193.1,351.3 192.8,352.2 194.0,352.3 193.6,353.2 194.4,353.6 193.8,354.4 194.9,354.7 194.4,355.5 195.1,355.9 194.8,356.6 195.4,357.0 195.0,357.8 195.8,358.2 195.2,359.0 196.3,359.3" stroke="#444444" stroke-width="2.5"/>
<polyline points="196.3,359.3 195.3,360.2" stroke="#444444" stroke-width="2.2" stroke-linecap="butt" stroke-dasharray="1.8 1.0"/>
<polyline points="195.3,360.2 197.3,360.2" stroke="#444444" stroke-width="2.5"/>
<polyline points="197.3,360.2 195.7,361.9" stroke="#444444" stroke-width="2.2" stroke-linecap="butt" stroke-dasharray="1.8 1.0"/>
<polyline points="195.7,361.9 197.7,360.7" stroke="#444444" stroke-width="2.5"/>
<polyline points="197.7,360.7 196.9,362.5 198.4,361.9 197.7,363.4 199.1,362.9 199.0,364.5 200.1,362.9" stroke="#444444" stroke-width="2.2" stroke-linecap="butt" stroke-dasharray="1.8 1.0"/>
<polyline points="200.1,362.9 199.9,365.3" stroke="#444444" stroke-width="2.5"/>
<polyline points="199.9,365.3 201.3,363.2" stroke="#444444" stroke-width="2.2" stroke-linecap="butt" stroke-dasharray="1.8 1.0"/>
<polyline points="201.3,363.2 201.2,365.4 202.4,363.7 202.5,365.3 203.9,364.8 202.6,365.8 204.5,365.9 203.2,366.9 204.6,367.1 203.2,368.1 205.3,368.2 203.2,369.4 205.4,369.4 204.1,370.4 205.9,370.5 203.8,371.7 206.0,371.7 204.6,372.8 206.3,372.9 205.1,373.9 206.7,373.7 205.1,375.5 207.2,374.8 205.9,376.4 208.1,375.7 207.0,377.1 208.9,376.6" stroke="#444444" stroke-width="2.5"/>
<polyline points="208.9,376.6 207.3,378.4" stroke="#444444" stroke-width="2.3" stroke-linecap="butt" stroke-dasharray="1.8 1.1"/>
<polyline points="207.3,378.4 208.2,378.3 208.8,377.7" stroke="#444444" stroke-width="2.5"/>
<polyline points="208.8,377.7 208.3,377.1" stroke="#444444" stroke-width="2.3" stroke-linecap="butt" stroke-dasharray="1.8 1.1"/>
<polyline points="208.3,377.1 209.1,376.5" stroke="#444444" stroke-width="2.5"/>
<polyline points="209.1,376.5 208.2,375.9" stroke="#444444" stroke-width="2.3" stroke-linecap="butt" stroke-dasharray="1.8 1.1"/>
<polyline points="208.2,375.9 209.0,375.3" stroke="#444444" stroke-width="2.5"/>
<polyline points="209.0,375.3 208.2,374.6" stroke="#444444" stroke-width="2.3" stroke-linecap="butt" stroke-dasharray="1.8 1.1"/>
<polyline points="208.2,374.6 209.1,374.1" stroke="#444444" stroke-width="2.5"/>
<polyline points="209.1,374.1 208.4,373.5" stroke="#444444" stroke-width="2.3" stroke-linecap="butt" stroke-dasharray="1.8 1.1"/>
<polyline points="208.4,373.5 209.1,372.9" stroke="#444444" stroke-width="2.5"/>
<polyline points="209.1,372.9 208.3,372.2" stroke="#444444" stroke-width="2.3" stroke-linecap="butt" stroke-dasharray="1.8 1.1"/>
<polyline points="208.3,372.2 209.2,371.7" stroke="#444444" stroke-width="2.5"/>
<polyline points="209.2,371.7 208.4,371.0" stroke="#444444" stroke-width="2.3" stroke-linecap="butt" stroke-dasharray="1.8 1.1"/>
<polyline points="208.4,371.0 209.4,370.5" stroke="#444444" stroke-width="2.5"/>
<polyline points="209.4,370.5 208.6,369.8 209.5,369.3 208.8,368.6 209.7,368.1 208.6,367.4 209.8,366.9 208.8,366.2 209.6,365.7 208.8,365.0 209.7,364.5 208.9,363.8 209.8,363.2 209.1,362.6 210.1,362.1 209.3,361.4 210.1,360.8 209.4,360.2 209.9,359.6 209.5,359.0 210.4,358.4 209.3,357.8 210.3,357.2 209.6,356.6 210.4,356.0 209.4,355.3 210.3,354.8 209.5,354.1 210.5,353.6 209.8,352.9 210.4,352.3 209.7,351.7 210.4,351.1 209.8,350.5 210.6,349.9 209.9,349.3 210.6,348.7 209.9,348.0 210.7,347.5 210.0,346.8 210.8,346.3 210.1,345.6 210.9,345.0 210.2,344.4 211.0,343.8 210.0,343.2 210.9,342.6 210.2,342.0 211.0,341.4 210.1,340.7 211.1,340.2 210.1,339.5 211.1,339.0 210.1,338.3 211.3,337.7 210.2,337.1 211.1,336.5 210.4,335.9 211.3,335.3 210.3,334.6 211.3,334.1 210.5,333.4 211.3,332.9 210.4,332.2 211.3,331.6 210.8,331.0 211.5,330.4 210.5,329.8 211.6,329.2 210.7,328.5 211.7,328.0 210.9,327.3 211.8,326.8 211.2,326.1 211.7,325.6 211.1,324.9 212.0,324.4 211.3,323.7 211.9,323.1 211.3,322.5 212.2,321.9 211.6,321.3 212.2,320.7 211.6,320.0 212.3,319.5 211.9,318.8 212.7,318.3 211.6,317.6 212.7,317.1 211.8,316.4 212.8,315.9 211.9,315.2 212.8,314.7 212.3,313.8 213.5,313.6 212.9,312.6 213.9,312.4 213.5,311.4 214.5,311.2 214.1,310.3 215.3,310.1 215.3,309.3 214.8,309.9 215.5,310.5 214.9,311.2 215.5,311.7 214.8,312.4 215.9,312.9 215.1,313.6 215.8,314.2 215.1,314.9 215.8,315.4 215.4,316.1 216.3,316.6 215.4,317.3 216.2,317.9 215.3,318.6 216.5,319.1 215.6,319.8 216.3,320.3 215.7,321.0 216.7,321.5 215.6,322.2 216.5,322.8 215.7,323.5 216.6,324.0 216.0,324.7 216.7,325.2 215.9,325.9 217.1,326.5 216.2,327.1 217.0,327.7 216.3,328.3 217.2,328.9 216.4,329.5 216.9,330.1 216.2,330.8 217.1,331.3 216.2,332.0 217.3,332.5 216.3,333.2 217.1,333.7 216.4,334.4 217.5,334.9 216.6,335.6 217.2,336.2 216.7,336.8 217.4,337.4 216.6,338.0 217.4,338.6 216.8,339.2 217.5,339.8 216.7,340.4 217.7,341.0 216.9,341.6 217.7,342.2 216.7,342.8 217.8,343.4 217.1,344.0 217.7,344.6 216.8,345.3 217.9,345.8 217.2,346.5 218.0,347.0 217.3,347.7 218.2,348.2 217.2,348.9 218.0,349.5 217.2,350.1 217.9,350.7 217.3,351.3 218.1,351.9 217.5,352.5 218.3,353.1 217.6,353.7 218.2,354.3 217.4,354.9 218.3,355.5 217.7,356.1 218.4,356.7 217.8,357.4 218.7,357.9 217.5,358.6 218.4,359.1 217.8,359.8 218.7,360.3 217.9,361.0 218.9,361.5 218.0,362.2 218.7,362.8 218.0,363.4 218.9,364.0 218.2,364.6 219.0,365.2 218.1,365.9 219.0,366.4 218.2,367.1 219.2,367.6 218.3,368.3 219.2,368.8 218.2,369.5 219.1,370.0 218.4,370.7 219.2,371.3 218.5,371.9 219.3,372.5 217.8,373.2 220.8,373.6 217.4,374.7 220.9,374.5 218.4,375.7 220.8,375.7 218.7,376.9 221.3,376.9 218.7,378.2 220.9,378.2 218.9,379.4 222.0,379.2" stroke="#444444" stroke-width="2.3" stroke-linecap="butt" stroke-dasharray="1.8 1.1"/>
<polyline points="222.0,379.2 219.2,380.5" stroke="#444444" stroke-width="2.5"/>
<polyline points="219.2,380.5 222.5,380.3" stroke="#444444" stroke-width="2.3" stroke-linecap="butt" stroke-dasharray="1.8 1.1"/>
<polyline points="222.5,380.3 220.0,381.6" stroke="#444444" stroke-width="2.5"/>
<polyline points="220.0,381.6 221.9,381.7 220.5,382.7 222.7,382.8" stroke="#444444" stroke-width="2.3" stroke-linecap="butt" stroke-dasharray="1.8 1.1"/>
<polyline points="222.7,382.8 220.3,384.0" stroke="#444444" stroke-width="2.5"/>
<polyline points="220.3,384.0 222.9,384.0" stroke="#444444" stroke-width="2.3" stroke-linecap="butt" stroke-dasharray="1.8 1.1"/>
<polyline points="222.9,384.0 222.1,385.9 221.8,383.1" stroke="#444444" stroke-width="2.5"/>
<polyline points="221.8,383.1 223.2,385.2" stroke="#444444" stroke-width="2.3" stroke-linecap="butt" stroke-dasharray="1.8 1.1"/>
<polyline points="223.2,385.2 222.5,382.7 224.8,385.2 223.8,382.4 226.0,384.7 225.1,382.1 227.1,382.7 225.2,381.9 227.1,381.5 225.3,380.7 228.0,380.3 225.1,379.4 227.6,379.1 225.2,378.2 227.5,377.9 225.0,377.0 227.8,376.7 225.9,375.9 227.9,375.5 225.4,374.6 228.9,374.3 225.5,373.4 228.0,373.0 226.1,372.2 228.5,371.9 226.4,371.0 229.4,370.7 226.8,369.8 228.9,369.5 226.0,368.5 229.7,368.3 226.9,367.4 229.2,367.0 226.3,366.1 227.3,365.8 229.1,366.2 226.3,367.1 229.1,367.4 227.1,368.3 229.4,368.6 227.2,369.5 229.3,369.8 227.8,370.6 230.6,370.9 227.0,371.9 230.4,372.1 227.9,373.1 230.0,373.4 227.6,374.3 230.1,374.6 227.9,375.5 231.1,375.7 228.1,376.7 230.5,377.0 227.5,378.0 231.0,378.2 228.8,379.1 230.9,379.4 228.2,380.4 230.5,380.5 229.1,381.9 231.8,381.3 229.0,383.4 232.3,382.5 229.6,384.6 232.7,383.8 230.7,385.5 233.7,384.7 233.3,386.8 231.4,384.6 233.9,385.7 232.6,383.9 234.7,384.7 233.2,382.7 235.4,383.7 234.3,382.0 236.3,382.7 234.8,380.8 237.1,381.7 235.5,379.8 238.6,381.2 236.0,378.6 239.4,379.7 237.1,378.0 239.3,378.2 237.7,376.8 240.2,377.1 237.9,375.4 240.2,375.6 239.7,373.9 239.9,375.7 241.2,374.1 241.1,376.4 244.1,375.1 240.7,376.4 243.5,376.6 241.4,377.6 243.6,377.8 240.9,379.0 244.1,379.0 241.4,380.2 244.8,380.2 241.4,381.5 244.1,381.6 242.4,382.6 244.8,382.8 243.0,383.8 245.6,383.5 243.2,385.4 246.0,384.7 243.6,386.7 245.8,386.4 244.3,387.8 246.0,386.9 246.1,388.8 247.3,387.5 247.3,390.0 248.0,388.2 249.5,389.3 248.7,387.1 250.8,388.9 250.0,386.6 249.4,387.5 252.2,387.3 249.8,388.7 253.0,388.4 250.9,389.7 252.8,389.8 251.1,391.0 253.8,390.9 251.3,392.3 253.8,392.2 253.8,394.7 252.8,392.0 254.5,393.4 253.8,391.2 255.5,392.6 255.5,391.4" stroke="#444444" stroke-width="2.5"/>
<polyline points="52.1,417.5 52.7,416.9 53.3,417.2 53.9,416.5 54.5,417.2 55.1,416.7 55.8,417.2 56.3,416.6 57.0,417.2 57.6,416.5 58.2,417.2 58.8,416.4 59.4,417.0 59.9,416.2 60.7,416.9 61.1,416.0 61.9,416.7 62.4,416.1 63.1,416.6 63.6,415.7 64.2,416.2 64.8,415.7 65.5,416.2 66.0,415.4 66.7,416.0 67.1,415.0 68.0,415.6 68.4,414.7 69.2,415.2 69.6,414.3 70.4,414.7 70.8,413.9 71.7,414.3 72.1,413.5 72.9,414.1 73.3,413.2 74.1,413.5 74.5,412.7 75.3,413.2 75.7,412.5 76.5,412.7 76.9,412.0 77.7,412.3 78.1,411.5 78.9,412.0 79.3,411.2 80.1,411.6 80.5,410.8 81.4,411.3 81.8,410.5 82.5,410.8 83.0,410.0 83.7,410.3 84.2,409.6 85.0,410.0 85.4,409.2 86.2,409.6 86.6,408.8 87.4,409.0 87.8,408.2 88.6,408.7 89.0,408.0 89.8,408.3 90.2,407.4 91.0,408.0 91.4,407.1 92.0,407.4 92.7,407.4 93.0,408.3 93.9,408.1 94.6,408.8 94.4,408.0 95.1,407.7 95.0,406.9 95.7,406.7 95.7,405.9 96.5,405.7 96.2,404.7 97.3,404.7 97.3,403.7 97.8,403.6 98.8,403.5 99.2,404.1 100.0,404.5 99.4,405.3 100.3,405.8 99.7,406.6 100.6,407.0 100.1,407.8 100.6,408.0 101.2,408.8 101.9,408.1 102.4,408.9 103.1,408.3 103.7,409.1 104.4,408.6 104.9,409.3 105.6,408.6 106.1,409.4 106.7,408.8 107.4,409.2 107.9,408.5 108.6,409.0 109.0,408.2 109.8,408.5 110.2,407.7 110.9,408.1 111.3,407.5 112.0,407.7 112.5,407.0 113.3,407.6 113.8,407.0 114.5,407.3 115.1,406.8 115.8,407.3 116.3,406.6 117.0,406.9 117.6,406.4 118.2,406.8 118.8,406.2 119.5,406.6 120.0,405.8 120.7,406.5 121.5,405.7 121.7,406.5 122.5,406.5 122.6,407.4 123.5,407.5 123.3,408.2 123.9,408.6 123.6,409.3 124.4,409.8 123.8,410.6 124.6,411.0 124.3,411.7 124.9,412.2 124.6,412.9 125.2,413.4 125.5,414.1 125.2,413.4 126.0,413.0 125.4,412.2 126.1,411.8 125.9,411.1 126.7,410.7 126.4,410.0 127.0,409.5 126.8,408.8 127.4,408.5 127.3,407.7 128.1,407.4 127.8,406.4 128.8,406.4 128.7,405.5 129.5,405.2 129.4,404.4 130.1,404.1 129.9,403.2 130.8,403.3 131.1,402.5 131.8,402.7 132.1,401.9 132.9,402.2 133.2,401.4 134.1,401.9 134.2,401.2 135.0,400.8 134.4,399.8 135.9,399.8 135.3,398.8 136.3,398.5 135.9,397.6 137.2,397.5 136.3,396.5 137.5,396.1 136.3,395.3 137.9,395.0 136.9,394.1 137.9,393.7 136.8,392.9 138.3,392.6 137.3,391.8 138.5,391.4 137.6,390.6 138.5,390.1 137.9,389.4 138.8,389.0 138.1,388.2 139.1,387.8 137.9,386.9 138.9,386.8 139.3,385.7 140.4,386.8 140.7,385.3 141.7,386.1 142.0,384.8 143.0,385.5 143.3,384.2 144.4,385.3 144.6,383.9 146.1,384.6 145.5,383.6 146.3,383.3 146.0,382.5 147.1,382.3 146.2,381.2 147.8,381.3 147.0,380.2 148.2,380.2 147.4,379.0 148.7,379.0 147.8,377.9 149.5,378.0 148.5,376.8 150.0,376.9 149.0,375.7 150.5,375.5 149.6,374.7 150.6,374.3 149.9,373.5 150.7,373.1 149.8,372.3 151.1,371.9 150.5,371.2 151.3,370.8 150.7,370.0 151.6,369.6 150.8,368.8 151.7,368.4 151.8,367.2 151.8,368.4 152.9,367.9 152.9,369.3 154.0,368.6 154.1,369.8 155.3,368.9 154.8,370.3 156.2,370.2 155.9,371.2 157.2,371.2 156.4,372.4 157.5,372.4 157.2,373.4 158.2,373.5 157.8,374.5 158.8,374.7 158.5,375.5 159.8,375.6 158.7,376.8 159.9,376.9 159.4,377.9 160.8,377.9 160.0,379.0 161.0,379.2 160.6,380.1 161.7,380.2 160.9,381.3 162.3,381.3 161.7,382.4 163.0,382.2 162.6,383.3 163.7,383.2 163.1,384.5 164.5,384.2 164.0,385.3 165.1,385.3 164.9,386.2 165.8,386.4 165.5,387.2 166.5,387.4 165.7,388.5 167.0,388.6 166.4,389.5 167.7,389.6 166.9,390.7 168.0,390.9 167.1,391.8 168.6,392.0 167.8,392.9 168.8,393.3 167.9,394.1 169.5,394.3 168.4,395.3 169.5,395.6 168.7,396.5 169.7,396.8 169.1,397.7 170.5,397.9 169.4,399.0 170.6,399.1 170.3,399.9 171.2,400.2 170.8,401.1 171.3,401.4 171.9,401.0 171.4,400.2 172.2,399.8 171.7,399.1 172.4,398.6 172.0,397.9 172.7,397.4 172.2,396.7 173.0,396.3 173.1,395.2 173.4,396.3 174.2,396.3 175.0,396.4 175.3,395.6 176.2,395.7 176.4,394.9 177.2,394.9 177.5,394.1 178.4,394.4 178.7,393.6 179.6,393.8 179.8,392.8 180.5,393.1 181.3,392.9 181.8,393.5 182.5,393.0 183.0,393.8 183.7,393.6 184.2,394.1 185.0,393.6 185.5,394.4 186.2,393.9 186.7,394.8 187.4,394.5 187.9,395.0 188.7,394.8 189.0,395.6 189.8,395.5 190.1,396.1 190.9,396.0 191.1,396.8 191.9,396.7 192.2,397.5 193.0,397.3 193.2,398.2 194.1,398.1 194.1,398.8 195.0,398.8 195.0,399.7 195.6,399.9 195.8,400.6 195.7,400.9 196.8,400.3 195.7,399.7 196.9,399.1 195.9,398.4 196.8,397.8 195.8,397.2 196.7,396.6 195.8,396.0 196.8,395.4 196.1,394.8 196.8,394.1 195.9,393.5 196.7,392.9 195.8,392.3 197.1,391.7 196.0,391.1 197.1,390.5 195.9,389.8 197.0,389.2 196.2,388.6 195.8,388.0 197.2,388.6 196.1,389.2 197.0,389.8 196.3,390.5 197.1,391.1 196.0,391.7 197.0,392.3 196.2,393.0 197.2,393.6 196.0,394.2 197.0,394.8 196.3,395.4 197.2,396.0 196.4,396.7 197.3,397.3 196.3,397.9 197.4,398.5 196.3,399.2 197.1,399.8 196.5,400.4 196.9,400.7 197.4,401.5 198.2,400.7 198.6,402.0 199.5,401.1 199.9,402.1 200.8,401.4 201.1,402.6 202.1,401.8 202.4,402.8 203.3,402.4 203.5,403.4 204.4,403.1 204.7,404.1 205.6,403.8 205.7,404.9 206.8,404.3 207.8,405.1 206.9,404.1 207.9,403.8 207.3,402.8 208.7,402.7 207.9,401.7 209.2,401.5 208.4,400.5 209.3,400.1 209.0,399.3 209.9,398.9 209.2,398.1 210.5,397.7 209.8,397.0 210.6,396.5 210.0,395.8 210.8,395.3 210.1,394.6 211.1,394.2 210.5,393.4 211.4,393.0 210.7,392.2 211.8,391.9 210.8,391.0 211.8,390.6 210.9,389.8 212.0,389.4 211.4,388.7 212.2,388.3 211.7,387.4 212.6,387.2 212.0,386.2 213.1,386.1 212.5,385.1 213.6,384.9 213.3,384.1 213.4,383.7 214.4,384.1 213.5,385.0 214.6,385.3 214.2,386.1 215.0,386.6 214.5,387.4 215.7,387.7 214.5,388.7 215.7,389.0 215.3,389.8 216.2,390.2 215.3,391.0 216.2,391.5 215.6,392.2 216.7,392.6 215.9,393.3 216.8,393.8 215.8,394.6 217.1,395.0 216.1,395.8 217.1,396.2 216.3,397.0 217.1,397.5 216.5,398.2 217.4,398.6 216.7,399.4 217.5,399.9 217.0,400.5 217.7,401.1 217.0,401.8 218.0,402.2 217.2,403.0 218.1,403.2 218.0,404.2 218.9,404.2 218.8,405.2 220.0,404.9 219.6,406.1 220.8,405.8 220.6,407.0 221.5,406.9 222.1,407.8 221.8,406.6 223.0,406.8 222.9,405.9 223.8,405.9 223.5,404.7 224.6,404.9 224.6,404.1 225.6,404.2 225.3,402.9 226.5,403.3 226.4,402.3 227.5,402.5 227.3,401.4 227.6,401.3 228.7,401.6 227.9,402.7 229.4,402.8 228.7,403.9 229.6,404.2 229.2,405.1 229.9,405.3 230.4,406.1 231.2,405.3 231.5,406.7 232.4,405.8 232.9,406.5 233.7,405.8 234.6,407.0 234.3,405.6 235.5,406.1 235.3,404.9 236.6,405.4 236.3,404.1 237.5,404.6 238.0,403.2 238.0,404.6 239.1,404.1 239.3,405.1 240.2,404.7 240.5,405.7 241.6,405.1 241.7,406.3 242.7,405.8 242.8,407.0 243.8,406.5 244.0,407.5 244.9,406.9 245.4,408.0 246.2,407.1 246.7,408.4 247.6,407.2 248.0,408.4 248.9,407.5 249.4,408.7 250.2,407.6 250.6,408.9 251.4,408.0 251.8,409.0 252.6,408.2 253.0,409.3 253.8,408.4 254.2,409.6 255.0,408.4 255.5,409.1" stroke="#ee3232" stroke-width="2.2"/>
<polyline points="52.1,417.1 52.7,416.9 53.3,417.1 53.9,416.9 54.5,417.1 55.1,416.8 55.7,417.1 56.3,416.9 57.0,417.1 57.6,416.9 58.2,417.1 58.8,416.8 59.4,417.1 60.0,416.9 60.6,417.1 61.2,416.8 61.8,417.0 62.4,416.9 63.0,417.1 63.6,416.9 64.2,417.1 64.8,416.8 65.4,417.0 66.0,416.8 66.7,417.1 67.3,416.8 67.9,417.1 68.5,416.9 69.1,417.0 69.7,416.8 70.3,417.0 70.9,416.8 71.5,417.1 72.1,416.8 72.7,417.0 73.3,416.8 73.9,417.0 74.5,416.8 75.1,417.0 75.7,416.8 76.4,417.0 77.0,416.8 77.6,417.0 78.2,416.8 78.8,416.9 79.4,416.7 80.0,417.0 80.6,416.8 81.2,416.9 81.8,416.8 82.4,416.9 83.0,416.8 83.6,416.9 84.2,416.8 84.8,416.9 85.4,416.8 86.1,417.0 86.7,416.8 87.3,417.0 87.9,416.8 88.5,417.0 89.1,416.7 89.7,416.9 90.3,416.8 90.9,416.9 91.5,416.7 92.1,417.0 92.7,416.8 93.3,417.0 93.9,416.8 94.5,416.9 95.1,416.7 95.8,416.9 96.4,416.7 97.0,416.9 97.6,416.7 98.2,416.9 98.8,416.7 99.4,416.9 100.0,416.7 100.6,416.9 101.2,416.7 101.8,416.9 102.4,416.7 103.0,416.9 103.6,416.7 104.2,416.9 104.8,416.6 105.5,416.8 106.1,416.7 106.7,416.8 107.3,416.6 107.9,416.8 108.5,416.6 109.1,416.7 109.7,416.5 110.3,416.8 110.9,416.6 111.5,416.7 112.1,416.5 112.7,416.8 113.3,416.5 113.9,416.7 114.5,416.5 115.2,416.7 115.8,416.4 116.4,416.7 117.0,416.4 117.6,416.6 118.2,416.4 118.8,416.6 119.4,416.4 120.0,416.6 120.6,416.4 121.2,416.6 121.8,416.4 122.4,416.6 123.0,416.4 123.6,416.5 124.2,416.3 124.8,416.5 125.4,416.3 126.0,416.6 126.6,416.3 127.2,416.6 127.8,416.3 128.4,416.5 129.0,416.3 129.6,416.5 130.2,416.3 130.8,416.5 131.4,416.3 132.0,416.4 132.6,416.3 133.2,416.5 133.8,416.2 134.4,416.4 135.0,416.3 135.6,416.4 136.2,416.2 136.8,416.5 137.4,416.2 138.0,416.5 138.6,416.2 139.2,416.5 139.8,416.3 140.4,416.4 141.0,416.2 141.6,416.4 142.2,416.2 142.8,416.3 143.4,416.2 144.1,416.3 144.7,416.1 145.3,416.3 145.9,416.1 146.5,416.2 147.1,416.0 147.8,416.1 148.4,416.0 149.0,416.1 149.6,415.9 150.2,416.1 150.8,415.8 151.5,416.0 152.1,415.7 152.7,415.9 153.3,415.7 153.9,415.8 154.5,415.7 155.1,415.9 155.7,415.7 156.3,415.8 156.9,415.6 157.5,415.8 158.2,415.6 158.8,415.8 159.4,415.6 160.0,415.8 160.6,415.6 161.2,415.7 161.8,415.6 162.4,415.8 163.0,415.5 163.6,415.7 164.2,415.4 164.8,415.7 165.4,415.4 166.0,415.6 166.6,415.4 167.3,415.6 167.9,415.5 168.5,415.6 169.1,415.4 169.7,415.6 170.3,415.4 170.9,415.6 171.5,415.4 172.1,415.6 172.7,415.4 173.3,415.5 173.9,415.3 174.5,415.5 175.1,415.3 175.8,415.5 176.4,415.2 177.0,415.5 177.6,415.2 178.2,415.4 178.8,415.2 179.4,415.5 180.0,415.2 180.6,415.4 181.2,415.2 181.8,415.3 182.5,415.1 183.1,415.3 183.7,415.1 184.3,415.2 184.9,415.0 185.5,415.2 186.2,415.0 186.8,415.1 187.4,414.9 188.0,415.1 188.6,414.9 189.2,415.0 189.8,414.8 190.5,415.0 191.1,414.7 191.7,415.0 192.3,414.8 192.9,415.0 193.5,414.6 194.2,414.9 194.8,414.6 195.4,414.8 196.0,414.6 196.7,414.9 197.3,414.7 198.0,415.0 198.7,414.8 199.3,415.0 200.0,414.9 200.6,415.1 201.2,415.0 201.8,415.2 202.4,415.0 203.0,415.2 203.6,415.1 204.2,415.3 204.9,415.1 205.5,415.3 206.1,415.1 206.7,415.4 207.3,415.2 207.9,415.5 208.5,415.3 209.1,415.5 209.7,415.3 210.3,415.5 210.9,415.4 211.5,415.7 212.1,415.4 212.7,415.7 213.3,415.5 213.9,415.7 214.5,415.6 215.1,415.8 215.8,415.6 216.4,415.9 217.0,415.6 217.6,415.9 218.2,415.7 218.8,415.9 219.4,415.8 220.0,416.0 220.6,415.8 221.2,416.0 221.8,415.8 222.4,416.1 223.0,415.9 223.6,416.1 224.2,415.9 224.8,416.1 225.4,415.9 226.0,416.2 226.6,415.9 227.2,416.1 227.8,416.0 228.4,416.1 229.0,416.0 229.6,416.1 230.2,416.0 230.8,416.2 231.4,416.0 232.0,416.3 232.6,416.1 233.2,416.3 233.8,416.1 234.4,416.3 235.0,416.1 235.6,416.3 236.2,416.1 236.8,416.4 237.5,416.2 238.0,416.3 238.7,416.1 239.3,416.4 239.9,416.2 240.5,416.4 241.1,416.2 241.7,416.4 242.3,416.3 242.9,416.5 243.5,416.3 244.1,416.5 244.7,416.3 245.3,416.5 245.9,416.3 246.5,416.6 247.1,416.3 247.7,416.5 248.3,416.4 248.9,416.6 249.5,416.4 250.1,416.6 250.7,416.4 251.3,416.6 251.9,416.4 252.5,416.7 253.1,416.5 253.7,416.7 254.3,416.5 254.9,416.7 255.5,416.6" stroke="#1556d0" stroke-width="2.0"/>
</g>
<line x1="196.9" y1="239.0" x2="196.9" y2="417.8" stroke="#555555" stroke-width="1.15" stroke-dasharray="3.8 3.3"/>
<g stroke="#3535e8" stroke-width="1.6" stroke-dasharray="4.7 4.4">
<line x1="64.8" y1="303.4" x2="188.5" y2="303.4"/>
<line x1="207.6" y1="303.4" x2="267.6" y2="303.4"/>
</g>
<polygon points="54.6,303.4 60.6,301.6 60.6,305.2" fill="#3535e8"/>
<polygon points="194.5,303.4 188.5,301.6 188.5,305.2" fill="#3535e8"/>
<polygon points="197.4,303.4 203.4,301.6 203.4,305.2" fill="#3535e8"/>
<polygon points="273.6,303.4 267.6,301.6 267.6,305.2" fill="#3535e8"/>
<rect x="51.9" y="237.5" width="224.1" height="180.3" fill="none" stroke="#4a4a4a" stroke-width="1.3"/>
<path d="M51.9,417.8v-3M83.9,417.8v-3M115.9,417.8v-3M147.9,417.8v-3M180.0,417.8v-3M212.0,417.8v-3M244.0,417.8v-3M276.0,417.8v-3M51.9,417.8h3M51.9,327.6h3M51.9,237.5h3" stroke="#4a4a4a" stroke-width="1.1" fill="none"/>
<g fill="#111"><text transform="translate(51.90,428.90) scale(1.000,1)" font-size="8.90" text-anchor="middle">0</text><text transform="translate(83.91,428.90) scale(1.000,1)" font-size="8.90" text-anchor="middle">4</text><text transform="translate(115.93,428.90) scale(1.000,1)" font-size="8.90" text-anchor="middle">8</text><text transform="translate(147.94,428.90) scale(1.000,1)" font-size="8.90" text-anchor="middle">12</text><text transform="translate(179.96,428.90) scale(1.000,1)" font-size="8.90" text-anchor="middle">16</text><text transform="translate(211.97,428.90) scale(1.000,1)" font-size="8.90" text-anchor="middle">20</text><text transform="translate(243.99,428.90) scale(1.000,1)" font-size="8.90" text-anchor="middle">24</text><text transform="translate(276.00,428.90) scale(1.000,1)" font-size="8.90" text-anchor="middle">28</text><text transform="translate(48.00,420.39) scale(1.000,1)" font-size="8.90" text-anchor="end">0.0</text><text transform="translate(48.00,330.24) scale(1.000,1)" font-size="8.90" text-anchor="end">0.5</text><text transform="translate(48.00,240.09) scale(1.000,1)" font-size="8.90" text-anchor="end">1.0</text></g>
<text x="165.0" y="446.0" font-size="11.00" text-anchor="middle" fill="#111">Injected pore volume (PV)</text>
<text transform="translate(26.0,325.2) rotate(-90)" font-size="11.30" text-anchor="middle" fill="#111">Pressure (MPa)</text>
<text x="5.3" y="239.6" font-size="15.40" text-anchor="start" fill="#000">(c)</text>
<text x="89.1" y="290.1" font-size="8.40" text-anchor="start" fill="#1a1a1a">Polymer</text>
<text x="89.1" y="300.4" font-size="8.40" text-anchor="start" fill="#1a1a1a">flooding</text>
<text x="206.7" y="290.4" font-size="8.40" text-anchor="start" fill="#1a1a1a">Subsequent</text>
<text x="206.7" y="300.5" font-size="8.40" text-anchor="start" fill="#1a1a1a">water flooding</text>
<path d="M233.4,247.1H242.4M246.4,247.1H254.9" stroke="#d2d2d2" stroke-width="1"/>
<rect x="243.3" y="246.0" width="2.2" height="2.2" fill="#222"/>
<text x="257.5" y="250.2" font-size="8.70" fill="#111">P<tspan font-size="6.44" dy="2.87">1</tspan></text>
<path d="M233.4,261.4H242.4M246.4,261.4H254.9" stroke="#f7c8c8" stroke-width="1"/>
<circle cx="244.4" cy="261.4" r="1.4" fill="#ee3232"/>
<text x="257.5" y="264.5" font-size="8.70" fill="#111">P<tspan font-size="6.44" dy="2.87">2</tspan></text>
<path d="M233.4,275.7H242.4M246.4,275.7H254.9" stroke="#c4d4f2" stroke-width="1"/>
<polygon points="244.4,274.1 242.9,276.8 245.9,276.8" fill="#1556d0"/>
<text x="257.5" y="278.8" font-size="8.70" fill="#111">P<tspan font-size="6.44" dy="2.87">3</tspan></text>
<g fill="none" stroke-linejoin="round" stroke-linecap="round">
<polyline points="323.0,418.2 322.9,417.6 323.2,417.0 323.0,416.4 323.2,415.8 323.1,415.1 323.3,414.6 323.2,413.9 323.5,413.3 323.3,412.7 323.5,412.1 323.5,411.5 323.7,410.9 323.7,410.3 324.2,409.8 324.2,409.1 324.6,408.6 324.6,407.9 325.0,407.5 325.0,406.8 325.4,406.3 325.5,405.7 325.9,405.2 326.1,404.5 326.6,404.0 326.8,403.4 327.3,402.9 327.5,402.3 328.1,401.9 328.2,401.2 328.8,400.8 329.1,400.1 329.7,399.8 330.1,399.2 330.7,398.8 331.1,398.2 331.7,397.9 332.1,397.3 332.8,397.2 333.3,396.7 334.0,396.5 334.5,396.0 335.1,396.0 335.7,395.7 336.4,395.7 337.0,395.3 337.7,395.4 338.2,395.0 338.9,395.0 339.5,394.7 340.2,394.9 340.8,394.7 341.4,394.9 342.0,394.6 342.7,394.8 343.3,394.5 343.9,394.4 344.4,394.1 345.1,394.1 345.6,393.6 346.2,393.6 346.7,393.2 347.4,393.1 347.9,392.6 348.5,392.5 349.1,392.1 349.7,391.9 350.2,391.6 350.9,391.5 351.4,391.0 352.0,390.9 352.5,390.5 353.2,390.5 353.7,390.1 354.3,390.1 354.9,389.7 355.5,389.7 356.0,389.3 356.7,389.3 357.2,388.9 357.8,388.9 358.3,388.5 359.0,388.5 359.5,388.1 360.1,388.1 360.7,387.8 361.3,387.8 361.8,387.4 362.5,387.3 363.0,386.9 363.6,387.0 364.2,386.6 364.8,386.6 365.3,386.2 366.0,386.1 366.5,385.7 367.2,385.6 367.7,385.3 368.3,385.2 368.9,384.8 369.5,384.8 370.1,384.4 370.7,384.5 371.2,384.1 371.9,384.1 372.4,383.7 373.0,383.7 373.5,383.4 374.2,383.5 374.7,383.0 375.3,383.1 375.9,382.7 376.5,382.7 377.0,382.2 377.6,382.2 378.1,381.8 378.8,381.8 379.3,381.4 380.0,381.3 380.5,381.0 381.1,380.9 381.7,380.5 382.3,380.6 382.9,380.2 383.5,380.3 384.1,379.9 384.7,380.0 385.4,379.9 386.1,380.2 386.9,380.2 387.5,380.4 387.8,381.0 387.7,381.6 388.0,382.2 387.9,382.8 388.1,383.4 388.0,384.0 388.3,384.6 388.3,385.2 388.5,385.8 388.4,386.4 388.7,387.0 388.6,387.6 389.0,388.2 389.0,388.9 389.4,389.5 389.5,390.2 389.7,390.7 390.4,390.5 390.7,389.9 391.3,389.7 391.7,389.1 392.3,388.9 392.7,388.4 393.3,388.1 393.8,387.5 394.5,387.4 394.9,386.8 395.6,386.6 396.2,386.1 396.9,386.0 397.5,385.6 398.2,385.5 398.9,385.5 399.4,386.0 400.0,386.1 400.6,386.6 401.3,386.6 401.8,387.1 402.4,387.1 403.0,387.6 403.6,387.2 404.2,387.2 404.8,386.8 405.4,386.8 406.0,386.4 406.6,386.4 407.2,386.0 407.9,386.0 408.3,385.6 409.0,385.5 409.5,385.1 410.1,385.1 410.6,384.7 411.3,384.6 411.9,384.2 412.1,384.9 412.7,385.3 412.9,386.0 413.5,386.4 413.7,387.0 414.3,387.4 414.7,387.9 415.3,388.0 415.8,388.5 416.4,388.6 416.8,389.0 417.5,389.2 417.9,389.7 418.5,389.8 419.0,390.3 419.6,390.3 420.1,390.8 420.7,390.8 421.2,391.2 421.8,391.3 422.3,391.6 422.8,391.8 423.2,391.2 423.4,390.5 423.8,390.0 423.9,389.2 424.3,388.7 424.4,387.9 425.0,387.6 425.2,387.0 425.8,386.7 426.0,386.1 426.6,385.8 426.8,385.1 427.4,384.9 427.8,384.2 428.0,384.9 428.6,385.3 428.8,385.9 429.4,386.4 429.6,387.0 430.2,387.4 430.6,388.0 431.4,388.2 431.9,388.8 432.4,389.1 432.9,388.6 433.1,387.9 433.5,387.5 433.7,386.8 434.2,386.4 434.3,385.7 434.8,385.2 434.9,384.6 435.5,384.1 435.6,383.4 436.3,383.2 436.7,382.7 437.4,382.5 437.8,382.0 438.4,381.8 438.8,381.3 439.5,381.1 439.9,380.5 440.5,380.3 441.1,379.9 441.7,379.8 442.3,379.4 443.0,379.2 443.5,378.7 444.1,378.6 444.7,378.1 445.2,378.0 445.8,378.4 446.0,379.2 446.6,379.6 446.8,380.3 447.2,380.9 447.2,381.5 447.6,382.1 447.6,382.7 448.0,383.3 448.0,383.9 448.4,384.5 448.4,385.1 448.7,385.7 448.6,386.4 448.9,387.0 448.7,387.6 449.0,388.2 448.9,388.8 449.2,389.4 449.1,390.1 449.4,390.7 449.2,391.3 449.5,391.9 449.4,392.6 449.8,393.2 449.7,393.8 449.9,394.4 449.8,395.1 450.2,395.7 450.2,396.3 450.1,395.7 450.4,395.1 450.2,394.5 450.5,393.9 450.3,393.3 450.6,392.7 450.5,392.1 450.8,391.5 450.6,390.9 450.9,390.3 450.7,389.7 451.0,389.1 450.8,388.5 451.2,387.9 451.0,387.3 451.3,386.7 451.1,386.1 451.4,385.5 451.2,384.9 451.6,384.3 451.4,383.7 451.6,383.1 451.5,382.5 451.8,381.9 451.6,381.3 451.9,380.7 451.8,380.1 452.0,379.5 451.9,378.9 452.1,378.3 452.0,377.7 452.2,377.1 452.0,376.4 452.3,375.9 452.2,375.2 452.4,374.7 452.3,374.0 452.6,373.4 452.4,372.8 452.7,372.2 452.5,371.6 452.8,371.0 452.6,370.4 452.8,369.8 452.7,369.1 453.4,368.9 453.8,368.3 454.4,368.1 454.9,367.5 455.5,367.9 456.2,367.8 456.8,368.2 457.5,368.2 458.0,368.5 458.8,368.7 459.3,369.3 460.0,369.5 460.4,370.1 461.0,370.4 461.3,371.0 461.9,371.3 462.3,371.9 462.9,372.2 463.2,372.8 463.7,373.1 464.3,373.6 465.1,373.7 465.5,374.2 466.1,374.4 466.6,374.9 467.2,375.1 467.7,375.6 468.3,375.7 468.8,376.1 469.4,376.1 469.9,376.5 470.5,376.5 471.0,376.9 471.6,377.0 472.3,377.3 473.0,377.3 473.7,377.6 474.3,377.4 474.9,377.6 475.5,377.4 476.2,377.6 476.8,377.4 477.4,377.6 478.0,377.4 478.6,377.6 479.2,377.4 479.9,377.6 480.5,377.4 481.1,377.6 481.8,377.5 481.8,378.1 482.1,378.7 482.1,379.4 482.4,379.9 482.4,380.6 482.7,381.2 482.6,381.8 482.8,382.4 482.7,383.0 483.0,383.6 482.9,384.3 483.1,384.9 483.0,385.5 483.2,386.1 483.1,386.7 483.4,387.3 483.2,388.0 483.5,388.6 483.3,389.2 483.6,389.8 483.4,390.4 483.7,391.0 483.6,391.7 483.9,392.3 483.7,392.9 484.0,393.5 483.9,394.1 484.3,394.7 484.2,395.3 484.6,395.8 484.4,396.5 484.7,397.1 484.7,397.7 485.1,398.2 485.0,398.9 485.3,399.4 485.2,400.1 485.5,400.6 485.5,401.3 485.8,401.8 485.8,402.4 486.1,403.0 486.0,403.6 486.4,404.2 486.4,404.9 486.8,405.4 486.7,406.1 487.1,406.6 487.1,407.3 487.5,407.8 487.5,408.5 487.9,409.0 487.9,409.7 488.2,410.3 488.2,410.9 488.7,411.4 488.9,412.1 489.4,412.5 489.7,413.2 490.4,412.8 491.2,412.7 491.8,412.4 492.3,411.9 492.3,411.2 492.9,410.8 492.9,410.2 493.3,409.7 493.4,409.0 493.9,408.6 494.0,407.9 494.6,407.5 495.0,406.8 495.5,406.4 496.1,406.2 496.7,406.4 497.3,406.2 497.9,406.4 498.5,406.2 499.1,406.4 499.8,406.2 500.4,406.4 501.0,406.2 501.6,406.4 502.2,406.2 502.8,406.4 503.4,406.2 504.0,406.4 504.6,406.2 505.2,406.4 505.8,406.2 506.4,406.4 507.1,406.2 507.7,406.4 508.3,406.2 508.9,406.4 509.5,406.2 510.1,406.4 510.7,406.2 511.3,406.4 511.9,406.2 512.5,406.4 513.1,406.2 513.7,406.4 514.4,406.2 515.0,406.4 515.6,406.2 516.2,406.4 516.8,406.2 517.4,406.4 518.0,406.2 518.6,406.4 519.2,406.2 519.8,406.4 520.4,406.2 521.0,406.4 521.7,406.2 522.3,406.4 522.9,406.2 523.5,406.4 524.1,406.2 524.7,406.4 525.3,406.2 525.9,406.4 526.5,406.2 527.1,406.4 527.7,406.2 528.3,406.4 529.0,406.2 529.6,406.4 530.2,406.2 530.8,406.4 531.4,406.2 532.0,406.4 532.6,406.3" stroke="#444444" stroke-width="2.5"/>
<polygon points="489.8,413.8 489.6,412.6 491.0,412.5 490.5,411.2 491.9,411.1 491.5,409.8 492.9,409.7 492.5,408.4 493.6,408.1 493.5,407.0 494.5,406.7 495.5,405.8 494.1,406.7 495.2,407.5 494.4,408.4 495.4,409.3 494.5,410.1 495.1,411.0 494.5,411.9 495.2,412.7 494.8,413.1 493.9,414.3 493.0,413.3 492.1,414.3 491.3,413.1 490.4,414.3 489.5,413.6" fill="#444444" stroke="none"/>
<polyline points="323.5,414.6 324.0,415.1 324.2,415.7 324.6,416.2 324.7,416.9 325.1,417.4 325.9,417.3 326.5,416.9 327.4,416.7 327.4,416.1 327.9,415.6 327.9,414.9 328.3,414.4 328.3,413.7 328.7,413.3 328.7,412.6 329.2,412.1 329.2,411.5 329.6,411.0 329.8,410.3 330.4,409.8 330.7,409.1 331.3,408.7 331.5,407.9 332.2,407.8 332.7,407.3 333.4,407.2 333.9,406.7 334.5,406.6 335.1,406.2 335.7,406.2 336.2,405.7 336.9,405.7 337.4,405.3 338.1,405.4 338.6,404.9 339.2,404.9 339.8,404.5 340.4,404.5 341.0,404.2 341.7,404.2 342.3,403.9 343.0,404.0 343.6,403.6 344.3,403.8 344.9,403.4 345.6,403.5 346.2,403.2 346.9,403.3 347.4,403.0 348.1,403.0 348.7,402.7 349.3,402.7 349.9,402.4 350.6,402.5 351.2,402.2 351.8,402.3 352.4,401.9 353.0,401.9 353.6,401.6 354.3,401.7 354.9,401.4 355.5,401.5 356.1,401.1 356.8,401.2 357.4,400.9 358.0,400.9 358.6,400.6 359.3,400.7 359.9,400.3 360.5,400.4 361.1,400.1 361.8,400.1 362.3,399.8 363.0,399.8 363.6,399.5 364.2,399.6 364.8,399.3 365.5,399.4 366.1,399.1 366.8,399.2 367.4,398.9 368.0,398.9 368.6,398.6 369.3,398.8 369.9,398.4 370.5,398.6 371.1,398.2 371.8,398.3 372.4,398.0 373.1,398.1 373.6,397.7 374.3,397.8 374.9,397.5 375.5,397.6 376.1,397.3 376.8,397.4 377.3,397.0 378.0,397.1 378.6,396.7 379.2,396.8 379.8,396.5 380.5,396.6 381.1,396.3 381.7,396.4 382.4,396.2 383.0,396.4 383.6,396.2 384.3,396.3 384.9,396.0 385.6,396.2 386.2,396.0 386.7,396.6 387.3,396.9 387.8,397.5 388.5,397.8 388.5,398.5 388.8,399.1 388.8,399.7 389.2,400.3 389.2,401.0 389.6,401.6 389.5,402.3 389.7,402.8 390.4,402.7 390.9,402.3 391.6,402.2 392.1,401.7 392.7,401.6 393.2,401.1 393.9,401.0 394.4,400.5 395.0,400.4 395.6,400.2 396.2,400.4 396.8,400.2 397.5,400.4 398.1,400.2 398.7,400.4 399.3,400.2 399.9,400.4 400.5,400.2 401.2,400.4 401.8,400.2 402.4,400.4 403.0,400.2 403.6,400.3 404.2,400.0 404.9,400.1 405.5,399.8 406.1,399.8 406.7,399.4 407.3,399.6 407.9,399.2 408.6,399.3 409.1,399.0 409.8,399.0 410.4,398.7 410.9,398.8 411.6,398.9 412.2,399.3 412.8,399.4 413.4,399.8 414.1,399.9 414.5,400.4 415.2,400.4 415.8,400.9 416.4,400.8 417.0,401.2 417.6,401.2 418.1,401.5 418.8,401.5 419.3,401.9 420.0,401.8 420.5,402.2 421.2,402.1 421.7,402.5 422.3,402.5 423.0,402.8 423.3,402.2 424.0,402.1 424.4,401.5 425.0,401.3 425.4,400.8 426.0,400.6 426.4,400.1 427.0,399.9 427.4,399.4 428.1,399.1 428.6,398.6 428.9,399.2 429.5,399.5 429.8,400.2 430.4,400.5 430.7,401.1 431.3,401.4 431.7,401.9 432.2,401.4 432.8,401.3 433.2,400.7 433.9,400.6 434.3,400.1 434.9,399.8 435.4,399.4 436.0,399.1 436.4,398.6 437.1,398.6 437.6,398.2 438.3,398.2 438.8,397.7 439.4,397.7 439.9,397.3 440.6,397.3 441.1,396.8 441.8,396.9 442.3,396.4 442.9,396.4 443.5,396.0 444.3,396.0 444.9,395.7 445.6,395.6 446.2,395.2 446.8,395.3 447.3,395.6 447.6,396.2 448.1,396.5 448.4,397.1 449.0,397.4 449.2,397.9 449.5,398.5 449.4,399.2 449.6,399.8 449.5,400.4 449.7,401.0 449.6,401.6 449.9,402.2 449.7,402.9 450.0,403.5 450.0,404.1 450.2,404.7 450.1,405.4 450.3,406.0 450.2,406.6 450.5,407.2 450.4,407.9 450.6,408.5 450.7,409.1 450.5,408.5 450.9,407.9 450.8,407.2 451.1,406.6 450.9,406.0 451.2,405.4 451.2,404.7 451.4,404.1 451.3,403.5 451.6,402.9 451.5,402.2 451.8,401.6 451.6,401.0 451.9,400.4 451.8,399.7 452.2,399.2 452.0,398.5 452.3,398.0 452.6,397.3 453.1,396.9 453.5,396.3 454.1,395.8 454.4,395.2 454.9,394.8 455.5,394.8 456.1,395.1 456.7,395.0 457.3,395.3 457.9,395.3 458.5,395.6 459.1,395.5 459.7,395.8 460.3,395.8 460.9,396.2 461.5,396.0 462.1,396.4 462.8,396.2 463.5,396.5 464.3,396.3 465.0,396.5 465.6,396.3 466.2,396.6 466.9,396.4 467.5,396.7 468.1,396.5 468.7,396.8 469.4,396.7 470.0,396.9 470.6,396.7 471.2,397.0 471.8,396.8 472.5,397.1 473.1,396.9 473.7,397.2 474.3,397.0 474.9,397.3 475.6,397.0 476.2,397.3 476.8,397.2 477.4,397.4 478.0,397.3 478.6,397.5 479.2,397.3 479.8,397.5 480.5,397.4 481.1,397.6 481.8,397.5 481.8,398.1 482.2,398.6 482.2,399.3 482.5,399.8 482.6,400.5 482.9,401.0 482.9,401.6 483.3,402.2 483.3,402.8 483.7,403.4 483.7,404.0 484.1,404.6 484.0,405.3 484.4,405.8 484.4,406.5 484.8,407.0 484.8,407.7 485.1,408.3 485.2,408.9 485.5,409.4 485.7,410.0 486.2,410.4 486.4,411.1 486.9,411.4 487.1,412.1 487.6,412.5 487.9,413.0 488.3,413.4 488.9,413.7 489.5,413.7 490.1,414.0 490.8,413.9 491.3,414.3 492.0,414.2 492.6,414.6 493.2,414.5 493.8,414.7 494.5,414.5 495.1,414.7 495.7,414.6 496.3,414.8 496.9,414.7 497.5,414.9 498.1,414.8 498.7,415.0 499.4,414.8 500.0,415.2 500.6,414.9 501.2,415.2 501.8,415.0 502.4,415.3 503.1,415.2 503.7,415.4 504.3,415.2 504.9,415.4 505.5,415.3 506.1,415.5 506.8,415.4 507.4,415.7 508.0,415.5 508.6,415.7 509.2,415.5 509.8,415.8 510.4,415.6 511.1,415.7 511.7,415.5 512.3,415.7 512.9,415.5 513.5,415.8 514.1,415.6 514.7,415.8 515.3,415.6 516.0,415.8 516.6,415.7 517.2,415.8 517.8,415.6 518.4,415.9 519.0,415.7 519.6,415.9 520.3,415.7 520.9,415.9 521.5,415.7 522.1,415.9 522.7,415.7 523.3,415.9 523.9,415.8 524.5,416.0 525.2,415.8 525.8,416.0 526.4,415.8 527.0,416.1 527.6,415.8 528.2,416.0 528.8,415.8 529.4,416.1 530.1,415.9 530.7,416.1 531.3,415.9 531.9,416.0" stroke="#ee3232" stroke-width="2.3"/>
<polyline points="323.0,417.6 323.2,416.9 323.8,416.5 324.0,415.8 324.3,415.3 324.8,415.8 324.7,416.6 325.2,417.1 325.2,417.7 325.7,418.3 325.8,419.0 326.4,418.8 327.1,419.0 327.7,418.8 328.4,419.0 329.0,418.8 329.7,419.0 330.3,418.8 331.0,419.0 331.6,418.8 332.2,418.7 332.6,418.2 333.3,418.2 333.7,417.7 334.4,417.7 334.9,417.2 335.5,417.1 336.0,416.6 336.6,416.6 337.1,416.2 337.8,416.3 338.3,415.9 338.9,416.0 339.4,415.6 340.1,415.6 340.6,415.3 341.2,415.2 341.8,414.9 342.4,415.0 343.0,414.7 343.6,414.9 344.2,414.6 344.9,414.7 345.4,414.5 346.1,414.5 346.6,414.3 347.3,414.4 347.9,414.1 348.5,414.2 349.1,414.0 349.7,414.1 350.3,413.9 350.9,414.0 351.5,413.9 352.1,414.0 352.7,413.8 353.3,414.0 353.9,413.7 354.5,413.9 355.1,413.6 355.8,413.8 356.3,413.5 357.0,413.7 357.6,413.5 358.2,413.6 358.8,413.4 359.4,413.6 360.0,413.4 360.6,413.5 361.2,413.3 361.8,413.4 362.4,413.2 363.0,413.3 363.6,413.1 364.2,413.3 364.8,413.1 365.4,413.2 366.0,413.0 366.6,413.2 367.2,413.0 367.9,413.2 368.5,412.9 369.1,413.1 369.7,412.9 370.3,413.1 370.9,412.9 371.5,413.1 372.1,412.8 372.7,413.0 373.3,412.8 373.9,412.9 374.5,412.7 375.2,412.9 375.8,412.7 376.4,412.8 377.0,412.6 377.6,412.8 378.2,412.6 378.9,412.7 379.5,412.4 380.1,412.6 380.8,412.3 381.4,412.5 382.1,412.2 382.7,412.4 383.3,412.0 383.9,412.2 384.6,412.3 385.1,412.9 385.8,413.0 386.3,413.6 386.9,413.7 387.5,414.1 388.1,414.2 388.6,414.6 389.3,414.7 389.8,415.1 390.5,414.9 391.1,415.1 391.8,414.9 392.4,415.1 393.1,414.9 393.7,415.2 394.4,415.0 395.0,415.2 395.6,415.0 396.2,415.1 396.8,414.9 397.5,415.1 398.1,414.9 398.7,415.1 399.3,414.9 399.9,415.0 400.5,414.9 401.2,415.1 401.8,414.8 402.4,415.0 403.0,414.8 403.6,415.0 404.2,414.7 404.8,415.0 405.5,414.7 406.1,415.0 406.7,414.7 407.3,414.9 407.9,414.7 408.5,414.8 409.2,414.6 409.8,414.8 410.4,414.6 411.0,414.8 411.6,414.6 412.2,414.8 412.9,414.7 413.5,414.9 414.1,414.7 414.8,414.9 415.4,414.8 416.0,414.9 416.6,414.8 417.3,415.0 417.9,414.9 418.5,415.1 419.1,414.9 419.8,415.1 420.4,414.9 421.0,415.1 421.6,415.0 422.3,415.1 422.9,415.0 423.5,415.1 424.1,414.9 424.7,415.0 425.3,414.7 425.9,414.9 426.5,414.6 427.1,414.8 427.7,414.5 428.3,414.7 428.9,414.4 429.5,414.5 430.1,414.3 430.7,414.5 431.3,414.2 431.9,414.3 432.5,414.0 433.1,414.2 433.7,413.9 434.3,414.0 434.9,413.8 435.5,413.9 436.1,413.7 436.8,413.9 437.4,413.6 438.0,413.8 438.6,413.5 439.3,413.7 439.9,413.5 440.5,413.6 441.1,413.4 441.7,413.5 442.4,413.2 443.0,413.4 443.6,413.1 444.2,413.3 444.8,413.1 445.5,413.3 446.2,413.0 446.6,413.6 447.2,413.8 447.5,414.4 448.2,414.6 448.5,415.2 449.2,415.4 449.6,415.9 450.0,416.2 450.6,415.8 450.8,415.3 451.3,414.8 451.6,414.3 452.2,413.9 452.4,413.2 453.0,412.8 453.3,412.2 453.9,412.4 454.6,412.2 455.2,412.3 455.8,412.1 456.4,412.3 457.1,412.0 457.7,412.3 458.3,412.1 459.0,412.2 459.6,411.9 460.2,412.2 460.8,411.9 461.5,412.1 462.1,411.9 462.6,412.3 463.3,412.3 463.8,412.8 464.5,412.8 465.0,413.2 465.6,413.0 466.2,413.2 466.9,413.0 467.5,413.2 468.1,413.0 468.7,413.2 469.3,413.0 469.9,413.2 470.6,413.0 471.2,413.2 471.8,413.0 472.4,413.2 473.0,413.0 473.7,413.2 474.3,413.0 474.9,413.2 475.5,413.0 476.1,413.2 476.8,413.0 477.4,413.2 478.0,413.0 478.6,413.2 479.2,413.0 479.8,413.2 480.5,413.0 481.1,413.2 481.7,413.0 482.2,413.5 482.9,413.5 483.3,414.0 484.0,414.1 484.4,414.6 485.1,414.6 485.5,415.1 486.1,415.2 486.7,415.4 487.3,415.2 487.9,415.4 488.6,415.2 489.2,415.4 489.8,415.2 490.4,415.4 491.0,415.2 491.6,415.4 492.3,415.2 492.9,415.4 493.5,415.2 494.1,415.4 494.7,415.3 495.3,415.4 495.9,415.3 496.5,415.5 497.1,415.3 497.7,415.6 498.3,415.4 498.9,415.7 499.5,415.5 500.1,415.7 500.7,415.5 501.3,415.7 502.0,415.5 502.6,415.8 503.2,415.7 503.8,415.8 504.4,415.7 505.0,415.9 505.6,415.8 506.2,416.0 506.8,415.8 507.4,416.1 508.0,415.9 508.6,416.1 509.2,416.0 509.8,416.1 510.4,415.9 511.1,416.1 511.7,415.9 512.3,416.2 512.9,416.0 513.5,416.2 514.1,416.0 514.7,416.2 515.3,416.0 516.0,416.2 516.6,416.0 517.2,416.2 517.8,416.0 518.4,416.3 519.0,416.1 519.6,416.3 520.3,416.1 520.9,416.3 521.5,416.1 522.1,416.4 522.7,416.2 523.3,416.4 523.9,416.2 524.5,416.4 525.2,416.2 525.8,416.4 526.4,416.2 527.0,416.4 527.6,416.2 528.2,416.5 528.8,416.2 529.4,416.5 530.1,416.3 530.7,416.5 531.3,416.3 531.9,416.4" stroke="#1556d0" stroke-width="2.3"/>
</g>
<line x1="465.4" y1="244.8" x2="465.4" y2="419.7" stroke="#3a3a3a" stroke-width="1.15" stroke-dasharray="3.8 3.3"/>
<g stroke="#3535e8" stroke-width="1.6" stroke-dasharray="4.7 4.4">
<line x1="332.7" y1="306.0" x2="459.0" y2="306.0"/>
<line x1="475.9" y1="306.0" x2="534.4" y2="306.0"/>
</g>
<polygon points="322.5,306.0 328.5,304.2 328.5,307.8" fill="#3535e8"/>
<polygon points="465.0,306.0 459.0,304.2 459.0,307.8" fill="#3535e8"/>
<polygon points="465.7,306.0 471.7,304.2 471.7,307.8" fill="#3535e8"/>
<polygon points="540.4,306.0 534.4,304.2 534.4,307.8" fill="#3535e8"/>
<rect x="322.7" y="243.3" width="220.1" height="176.4" fill="none" stroke="#4a4a4a" stroke-width="1.3"/>
<path d="M322.7,419.7v-3M354.1,419.7v-3M385.6,419.7v-3M417.0,419.7v-3M448.5,419.7v-3M479.9,419.7v-3M511.4,419.7v-3M542.8,419.7v-3M322.7,419.7h3M322.7,394.5h3M322.7,369.3h3M322.7,344.1h3M322.7,318.9h3M322.7,293.7h3M322.7,268.5h3M322.7,243.3h3" stroke="#4a4a4a" stroke-width="1.1" fill="none"/>
<g fill="#111"><text transform="translate(322.70,430.70) scale(0.920,1)" font-size="8.90" text-anchor="middle">0</text><text transform="translate(354.14,430.70) scale(0.920,1)" font-size="8.90" text-anchor="middle">4</text><text transform="translate(385.59,430.70) scale(0.920,1)" font-size="8.90" text-anchor="middle">8</text><text transform="translate(417.03,430.70) scale(0.920,1)" font-size="8.90" text-anchor="middle">12</text><text transform="translate(448.47,430.70) scale(0.920,1)" font-size="8.90" text-anchor="middle">16</text><text transform="translate(479.91,430.70) scale(0.920,1)" font-size="8.90" text-anchor="middle">20</text><text transform="translate(511.36,430.70) scale(0.920,1)" font-size="8.90" text-anchor="middle">24</text><text transform="translate(542.80,430.70) scale(0.920,1)" font-size="8.90" text-anchor="middle">28</text><text transform="translate(318.50,421.59) scale(0.920,1)" font-size="8.90" text-anchor="end">0.00</text><text transform="translate(318.50,396.39) scale(0.920,1)" font-size="8.90" text-anchor="end">0.05</text><text transform="translate(318.50,371.19) scale(0.920,1)" font-size="8.90" text-anchor="end">0.10</text><text transform="translate(318.50,345.99) scale(0.920,1)" font-size="8.90" text-anchor="end">0.15</text><text transform="translate(318.50,320.79) scale(0.920,1)" font-size="8.90" text-anchor="end">0.20</text><text transform="translate(318.50,295.59) scale(0.920,1)" font-size="8.90" text-anchor="end">0.25</text><text transform="translate(318.50,270.39) scale(0.920,1)" font-size="8.90" text-anchor="end">0.30</text><text transform="translate(318.50,245.19) scale(0.920,1)" font-size="8.90" text-anchor="end">0.35</text></g>
<text x="430.7" y="446.2" font-size="10.80" text-anchor="middle" fill="#111">Injected pore volume (PV)</text>
<text transform="translate(292.0,322.0) rotate(-90)" font-size="11.10" text-anchor="middle" fill="#111">Pressure (MPa)</text>
<text x="278.4" y="239.6" font-size="15.40" text-anchor="start" fill="#000">(d)</text>
<text x="389.0" y="291.0" font-size="8.30" text-anchor="start" fill="#1a1a1a">Polymer</text>
<text x="389.0" y="301.8" font-size="8.30" text-anchor="start" fill="#1a1a1a">flooding</text>
<text x="473.5" y="290.8" font-size="8.30" text-anchor="start" fill="#1a1a1a">Subsequent</text>
<text x="473.5" y="301.4" font-size="8.30" text-anchor="start" fill="#1a1a1a">water flooding</text>
<path d="M342.0,252.0H349.5M353.5,252.0H360.6" stroke="#d2d2d2" stroke-width="1"/>
<rect x="350.4" y="250.9" width="2.2" height="2.2" fill="#222"/>
<text x="363.5" y="254.7" font-size="7.60" fill="#111">P<tspan font-size="5.62" dy="2.51">1</tspan></text>
<path d="M342.0,264.2H349.5M353.5,264.2H360.6" stroke="#f7c8c8" stroke-width="1"/>
<circle cx="351.5" cy="264.2" r="1.4" fill="#ee3232"/>
<text x="363.5" y="266.9" font-size="7.60" fill="#111">P<tspan font-size="5.62" dy="2.51">2</tspan></text>
<path d="M342.0,276.4H349.5M353.5,276.4H360.6" stroke="#c4d4f2" stroke-width="1"/>
<polygon points="351.5,274.8 350.0,277.5 353.0,277.5" fill="#1556d0"/>
<text x="363.5" y="279.1" font-size="7.60" fill="#111">P<tspan font-size="5.62" dy="2.51">3</tspan></text>
</svg></body></html>
